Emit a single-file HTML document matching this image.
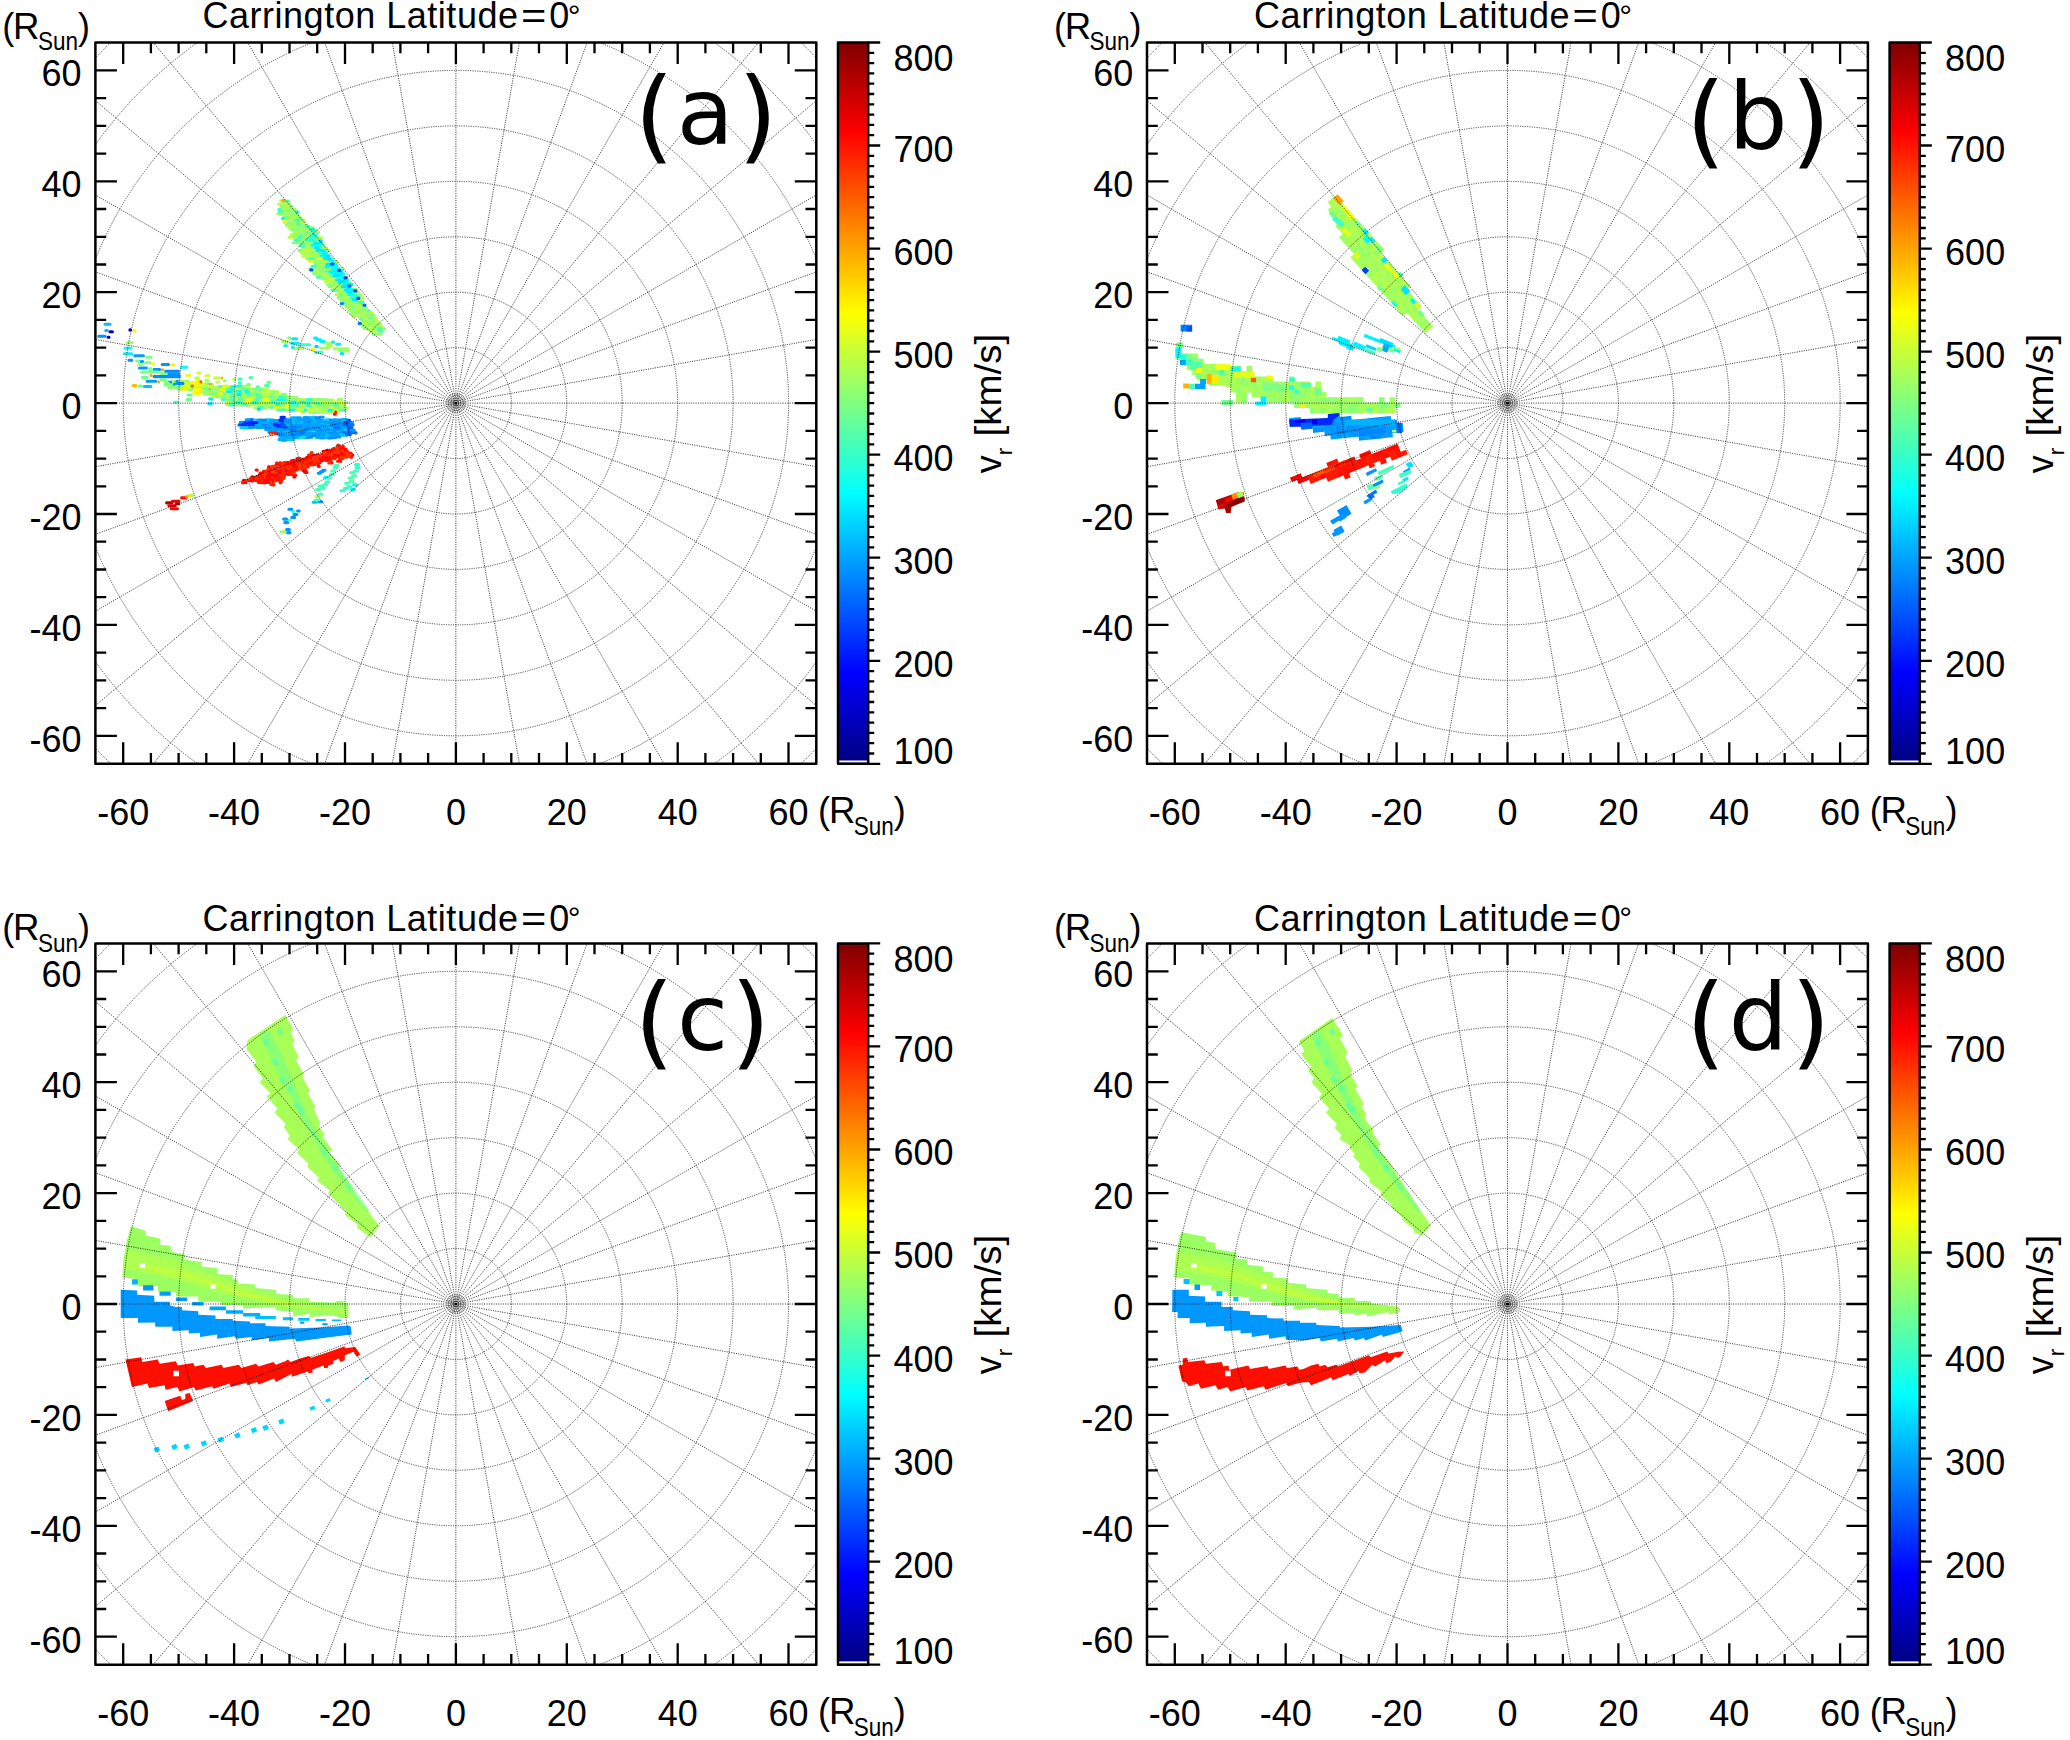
<!DOCTYPE html>
<html lang="en"><head><meta charset="utf-8"><title>Carrington Latitude=0 radial velocity maps</title>
<style>html,body{margin:0;padding:0;background:#fff}svg{display:block}text{font-family:"Liberation Sans", Arial, Helvetica, sans-serif;fill:#000}.t{font-size:36px}.s{font-size:22.6px}.p{font-family:"DejaVu Sans",Verdana,sans-serif;font-size:101.1px}</style></head><body>
<svg width="2070" height="1740" viewBox="0 0 2070 1740">
<rect width="2070" height="1740" fill="#fff"/>
<defs>
<linearGradient id="jet" x1="0" y1="0" x2="0" y2="1">
<stop offset="0%" stop-color="#800000"/>
<stop offset="3.125%" stop-color="#9f0000"/>
<stop offset="6.25%" stop-color="#bf0000"/>
<stop offset="9.375%" stop-color="#df0000"/>
<stop offset="12.5%" stop-color="#ff0000"/>
<stop offset="15.625%" stop-color="#ff2000"/>
<stop offset="18.75%" stop-color="#ff4000"/>
<stop offset="21.875%" stop-color="#ff6000"/>
<stop offset="25%" stop-color="#ff8000"/>
<stop offset="28.125%" stop-color="#ff9f00"/>
<stop offset="31.25%" stop-color="#ffbf00"/>
<stop offset="34.375%" stop-color="#ffdf00"/>
<stop offset="37.5%" stop-color="#ffff00"/>
<stop offset="40.625%" stop-color="#dfff20"/>
<stop offset="43.75%" stop-color="#bfff40"/>
<stop offset="46.875%" stop-color="#9fff60"/>
<stop offset="50%" stop-color="#80ff80"/>
<stop offset="53.125%" stop-color="#60ff9f"/>
<stop offset="56.25%" stop-color="#40ffbf"/>
<stop offset="59.375%" stop-color="#20ffdf"/>
<stop offset="62.5%" stop-color="#00ffff"/>
<stop offset="65.625%" stop-color="#00dfff"/>
<stop offset="68.75%" stop-color="#00bfff"/>
<stop offset="71.875%" stop-color="#009fff"/>
<stop offset="75%" stop-color="#0080ff"/>
<stop offset="78.125%" stop-color="#0060ff"/>
<stop offset="81.25%" stop-color="#0040ff"/>
<stop offset="84.375%" stop-color="#0020ff"/>
<stop offset="87.5%" stop-color="#0000ff"/>
<stop offset="90.625%" stop-color="#0000df"/>
<stop offset="93.75%" stop-color="#0000bf"/>
<stop offset="96.875%" stop-color="#00009f"/>
<stop offset="100%" stop-color="#000080"/>
</linearGradient>
<clipPath id="cp"><rect x="95.4" y="42.5" width="720.9" height="721.3"/></clipPath>
<g id="grid" clip-path="url(#cp)" fill="none" stroke="#000" stroke-width="1" stroke-dasharray="1.05 1.3" opacity="0.78">
<circle cx="455.9" cy="403.1" r="55.5"/>
<circle cx="455.9" cy="403.1" r="110.9"/>
<circle cx="455.9" cy="403.1" r="166.3"/>
<circle cx="455.9" cy="403.1" r="221.8"/>
<circle cx="455.9" cy="403.1" r="277.2"/>
<circle cx="455.9" cy="403.1" r="332.7"/>
<circle cx="455.9" cy="403.1" r="388.1"/>
<circle cx="455.9" cy="403.1" r="443.6"/>
<circle cx="455.9" cy="403.1" r="499.1"/>
<circle cx="455.9" cy="403.1" r="2.5"/>
<circle cx="455.9" cy="403.1" r="4.4"/>
<circle cx="455.9" cy="403.1" r="6.7"/>
<circle cx="455.9" cy="403.1" r="8.9"/>
<path d="M455.9 403.1L982.6 403.1M455.9 403.1L974.6 311.6M455.9 403.1L950.9 222.9M455.9 403.1L912.1 139.7M455.9 403.1L859.4 64.5M455.9 403.1L794.5 -0.4M455.9 403.1L719.2 -53.1M455.9 403.1L636 -91.9M455.9 403.1L547.3 -115.7M455.9 403.1L455.9 -123.7M455.9 403.1L364.4 -115.7M455.9 403.1L275.7 -91.9M455.9 403.1L192.5 -53.1M455.9 403.1L117.2 -0.4M455.9 403.1L52.3 64.5M455.9 403.1L-0.4 139.7M455.9 403.1L-39.2 222.9M455.9 403.1L-62.9 311.6M455.9 403.1L-70.9 403.1M455.9 403.1L-62.9 494.6M455.9 403.1L-39.2 583.3M455.9 403.1L-0.4 666.5M455.9 403.1L52.3 741.7M455.9 403.1L117.2 806.6M455.9 403.1L192.5 859.3M455.9 403.1L275.7 898.1M455.9 403.1L364.4 921.9M455.9 403.1L455.8 929.9M455.9 403.1L547.3 921.9M455.9 403.1L636 898.1M455.9 403.1L719.2 859.3M455.9 403.1L794.5 806.6M455.9 403.1L859.4 741.7M455.9 403.1L912.1 666.5M455.9 403.1L950.9 583.3M455.9 403.1L974.6 494.6"/>
</g>
<g id="axes">
<circle cx="455.9" cy="403.1" r="1.6" fill="#000"/>
<rect x="838" y="42.5" width="30.2" height="721.3" fill="url(#jet)"/>
<rect x="838" y="760.5" width="30.2" height="2.2" fill="#fff"/>
<path d="M123.2 42.5v21.5M123.2 763.8v-21.5M95.4 735.8h21.5M816.3 735.8h-21.5M150.9 42.5v10.8M150.9 763.8v-10.8M95.4 708.1h10.8M816.3 708.1h-10.8M178.6 42.5v10.8M178.6 763.8v-10.8M95.4 680.4h10.8M816.3 680.4h-10.8M206.3 42.5v10.8M206.3 763.8v-10.8M95.4 652.6h10.8M816.3 652.6h-10.8M234.1 42.5v21.5M234.1 763.8v-21.5M95.4 624.9h21.5M816.3 624.9h-21.5M261.8 42.5v10.8M261.8 763.8v-10.8M95.4 597.2h10.8M816.3 597.2h-10.8M289.5 42.5v10.8M289.5 763.8v-10.8M95.4 569.5h10.8M816.3 569.5h-10.8M317.2 42.5v10.8M317.2 763.8v-10.8M95.4 541.7h10.8M816.3 541.7h-10.8M345 42.5v21.5M345 763.8v-21.5M95.4 514h21.5M816.3 514h-21.5M372.7 42.5v10.8M372.7 763.8v-10.8M95.4 486.3h10.8M816.3 486.3h-10.8M400.4 42.5v10.8M400.4 763.8v-10.8M95.4 458.6h10.8M816.3 458.6h-10.8M428.1 42.5v10.8M428.1 763.8v-10.8M95.4 430.8h10.8M816.3 430.8h-10.8M455.9 42.5v21.5M455.9 763.8v-21.5M95.4 403.1h21.5M816.3 403.1h-21.5M483.6 42.5v10.8M483.6 763.8v-10.8M95.4 375.4h10.8M816.3 375.4h-10.8M511.3 42.5v10.8M511.3 763.8v-10.8M95.4 347.7h10.8M816.3 347.7h-10.8M539 42.5v10.8M539 763.8v-10.8M95.4 319.9h10.8M816.3 319.9h-10.8M566.8 42.5v21.5M566.8 763.8v-21.5M95.4 292.2h21.5M816.3 292.2h-21.5M594.5 42.5v10.8M594.5 763.8v-10.8M95.4 264.5h10.8M816.3 264.5h-10.8M622.2 42.5v10.8M622.2 763.8v-10.8M95.4 236.8h10.8M816.3 236.8h-10.8M649.9 42.5v10.8M649.9 763.8v-10.8M95.4 209h10.8M816.3 209h-10.8M677.7 42.5v21.5M677.7 763.8v-21.5M95.4 181.3h21.5M816.3 181.3h-21.5M705.4 42.5v10.8M705.4 763.8v-10.8M95.4 153.6h10.8M816.3 153.6h-10.8M733.1 42.5v10.8M733.1 763.8v-10.8M95.4 125.9h10.8M816.3 125.9h-10.8M760.8 42.5v10.8M760.8 763.8v-10.8M95.4 98.1h10.8M816.3 98.1h-10.8M788.5 42.5v21.5M788.5 763.8v-21.5M95.4 70.4h21.5M816.3 70.4h-21.5M868.2 763.8h12M868.2 753.5h6M868.2 743.2h6M868.2 732.9h6M868.2 722.6h6M868.2 712.3h6M868.2 702h6M868.2 691.7h6M868.2 681.4h6M868.2 671.1h6M868.2 660.8h12M868.2 650.5h6M868.2 640.1h6M868.2 629.8h6M868.2 619.5h6M868.2 609.2h6M868.2 598.9h6M868.2 588.6h6M868.2 578.3h6M868.2 568h6M868.2 557.7h12M868.2 547.4h6M868.2 537.1h6M868.2 526.8h6M868.2 516.5h6M868.2 506.2h6M868.2 495.9h6M868.2 485.6h6M868.2 475.3h6M868.2 465h6M868.2 454.7h12M868.2 444.4h6M868.2 434.1h6M868.2 423.8h6M868.2 413.5h6M868.2 403.1h6M868.2 392.8h6M868.2 382.5h6M868.2 372.2h6M868.2 361.9h6M868.2 351.6h12M868.2 341.3h6M868.2 331h6M868.2 320.7h6M868.2 310.4h6M868.2 300.1h6M868.2 289.8h6M868.2 279.5h6M868.2 269.2h6M868.2 258.9h6M868.2 248.6h12M868.2 238.3h6M868.2 228h6M868.2 217.7h6M868.2 207.4h6M868.2 197.1h6M868.2 186.8h6M868.2 176.5h6M868.2 166.2h6M868.2 155.8h6M868.2 145.5h12M868.2 135.2h6M868.2 124.9h6M868.2 114.6h6M868.2 104.3h6M868.2 94h6M868.2 83.7h6M868.2 73.4h6M868.2 63.1h6M868.2 52.8h6M868.2 42.5h12" fill="none" stroke="#000" stroke-width="2.3"/>
<path d="M95.4 42.5H816.3V763.8H95.4ZM838 42.5H868.2V763.8H838Z" fill="none" stroke="#000" stroke-width="2.5" stroke-linejoin="round"/>
<text class="t" x="123.2" y="825.4" text-anchor="middle">-60</text>
<text class="t" x="81.6" y="751.8" text-anchor="end">-60</text>
<text class="t" x="234.1" y="825.4" text-anchor="middle">-40</text>
<text class="t" x="81.6" y="640.9" text-anchor="end">-40</text>
<text class="t" x="345" y="825.4" text-anchor="middle">-20</text>
<text class="t" x="81.6" y="530" text-anchor="end">-20</text>
<text class="t" x="455.9" y="825.4" text-anchor="middle">0</text>
<text class="t" x="81.6" y="419.1" text-anchor="end">0</text>
<text class="t" x="566.8" y="825.4" text-anchor="middle">20</text>
<text class="t" x="81.6" y="308.2" text-anchor="end">20</text>
<text class="t" x="677.7" y="825.4" text-anchor="middle">40</text>
<text class="t" x="81.6" y="197.3" text-anchor="end">40</text>
<text class="t" x="788.5" y="825.4" text-anchor="middle">60</text>
<text class="t" x="81.6" y="86.4" text-anchor="end">60</text>
<text class="t" x="893.5" y="763.5">100</text>
<text class="t" x="893.5" y="676.8">200</text>
<text class="t" x="893.5" y="573.7">300</text>
<text class="t" x="893.5" y="470.7">400</text>
<text class="t" x="893.5" y="367.6">500</text>
<text class="t" x="893.5" y="264.6">600</text>
<text class="t" x="893.5" y="161.5">700</text>
<text class="t" x="893.5" y="71">800</text>
<text class="t" x="818.1" y="823.4">(</text><text class="t" x="828.9" y="823.4" style="font-size:36.6px">R</text><text class="t" x="853.7" y="834.7" style="font-size:25px" textLength="40" lengthAdjust="spacingAndGlyphs">Sun</text><text class="t" x="893.8" y="823.4">)</text>
<text class="t" transform="translate(1001.3 473.3) rotate(-90)">v<tspan class="s" dx="0" dy="11">r</tspan></text>
<text class="t" transform="translate(1001.3 436.5) rotate(-90)" textLength="102.6" lengthAdjust="spacingAndGlyphs">[km/s]</text>
</g>
</defs>
<g transform="translate(0 0)">
<g clip-path="url(#cp)">
<path d="M280.5 200.9h3.4M278.6 204.2h3.4M282.8 203.6h3.4M288.6 227.7h3.4M289 237.3h3.4M304.5 240h3.4M303.4 245.1h3.4M302.3 248.4h3.4M308.3 250.9h3.4M312.8 251.1h3.4M301.4 253.1h3.4M303.2 256.3h3.4M325.8 261.3h3.4M333.9 261.6h3.4M328 279.3h3.4M332.5 279.8h3.4M325.5 281.8h3.4M335.7 290.1h3.4M335.9 294.5h3.4M359.7 297.7h3.4M357.8 300.5h3.4M361.2 305.1h3.4M369.1 312.7h3.4M358.2 316h3.4M372.9 318.3h3.4M374.2 321h3.4M378.8 326.5h3.4M367.7 329.1h3.4M374.5 330.9h3.4M195.8 378h2.4M316 496.5h3" stroke="#baff45" stroke-width="3.1" stroke-linecap="round" fill="none"/>
<path d="M285 201.2h3.4M305.2 232.4h3.4M299.2 235.5h3.4M301.3 243.1h3.4M317.3 277.1h3.4M329.2 276.3h3.4M332.1 290.1h3.4M356 302.8h3.4M351.4 307.8h3.4M365.6 310.8h3.4M360.4 318.7h3.4M367.8 318.1h3.4M378.6 331.1h3.4M174.6 402.3h2.8M250 377.5h1.6M265.5 385.6h3.2M288.3 520.3h1.9M350.2 481.4h3M352.6 475.7h3" stroke="#54ffab" stroke-width="3.1" stroke-linecap="round" fill="none"/>
<path d="M285.9 203.4h3.4M291.6 209.3h3.4M284.4 211.6h3.4M293.8 211.5h3.4M286.6 219.3h3.4M290.7 219.1h3.4M299.9 219.9h3.4M286.2 225.1h3.4M303.9 225.2h3.4M301.4 227.5h3.4M299.7 229.7h3.4M299.2 240.4h3.4M310.6 243.3h3.4M320.6 245.3h3.4M306.5 258.4h3.4M321 261.4h3.4M312.9 272h3.4M318.1 274.5h3.4M322.6 279h3.4M346.3 281.7h3.4M336.4 284.4h3.4M363.3 307.7h3.4M358.4 310.5h3.4M363.8 313.5h3.4M361.1 315.8h3.4M377.2 323.7h3.4M370.2 325.9h3.4M375.1 326.3h3.4M185 381.5h3.4M177.9 383.6h3.4M209.1 384.4h3.4M208.8 389.1h3.4M216.9 389.1h3.4M211 392.1h3.4M270.7 391.4h3.4M274.6 391.9h3.4M204.3 394.3h3.4M220.8 394.6h3.4M234.3 394.6h3.4M251.6 394.3h3.4M223.1 396.7h3.4M227.6 397.1h3.4M249.9 397.2h3.4M251.6 400h3.4M272.8 399.2h3.4M286.2 399.9h3.4M289.9 399.3h3.4M294.3 399.6h3.4M338.2 399.5h3.4M275.3 402.4h3.4M343.6 402.5h3.4M233.8 404.6h3.4M251.3 404.7h3.4M255.9 404.2h3.4M292.3 407.4h3.4M317.7 412.1h3.4M127.4 342.8h4.7M224.4 380.7h0.9M234.5 378.8h0.1M320.4 348.2h7.8M334.3 348.9h14M339.7 351h8.6M313.2 437.7h3.4M281.4 531.9h3.4" stroke="#9dff62" stroke-width="3.1" stroke-linecap="round" fill="none"/>
<path d="M281 206.2h3.4M288.5 206.6h3.4M289 211.3h3.4M290.6 214.5h3.4M283.8 217.2h3.4M296.7 217.3h3.4M299.4 224.4h3.4M296.9 227.8h3.4M291.4 229.6h3.4M312.4 230h3.4M297.5 232.8h3.4M309.5 232.8h3.4M315.1 232.4h3.4M303.5 235.2h3.4M293.1 242.8h3.4M297.8 242.9h3.4M298.8 250.5h3.4M310.2 253h3.4M311.8 256.3h3.4M313.2 261.5h3.4M319 264h3.4M320.6 266.7h3.4M319.4 268.6h3.4M313.9 273.9h3.4M327.1 274.1h3.4M321.7 276.8h3.4M327.5 284.8h3.4M340.6 284.9h3.4M329.4 286.8h3.4M338.1 297.6h3.4M344.5 300.2h3.4M360.5 307.8h3.4M362.5 310.4h3.4M356.1 312.8h3.4M370.7 315.3h3.4M361.7 321.1h3.4M370.5 321.3h3.4M362.5 326.3h3.4M381.1 328.9h3.4M372.8 334.1h3.4M191.5 383.4h3.4M205 383.8h3.4M187.8 389.4h3.4M191.7 388.7h3.4M212.5 388.8h3.4M259.9 389h3.4M214.6 392.1h3.4M223.3 391.7h3.4M240.8 391.4h3.4M258.1 391.7h3.4M229.7 394.7h3.4M268.4 394.6h3.4M273.3 394.3h3.4M244.6 397h3.4M226.1 399.7h3.4M320 399.7h3.4M232.6 401.7h3.4M263.1 402.1h3.4M326.1 402.5h3.4M264.7 404.8h3.4M328.9 404.6h3.4M341.2 404.7h3.4M318.2 406.9h3.4M322.1 407.4h3.4M313.2 412.4h3.4" stroke="#87ff78" stroke-width="3.1" stroke-linecap="round" fill="none"/>
<path d="M284.1 206.3h3.4M277.7 213.8h3.4M294.6 214.6h3.4M293.2 221.9h3.4M296.7 221.9h3.4M290.9 234.8h3.4M314.8 237.5h3.4M305.2 247.8h3.4M304.2 251.1h3.4M315.1 253.5h3.4M308.7 255.6h3.4M314.4 258.6h3.4M322.8 263.4h3.4M317.5 266.7h3.4M339.8 268.6h3.4M316.6 271.9h3.4M322.4 274.2h3.4M328.9 281.6h3.4M333.4 287.2h3.4M339.7 289.5h3.4M342.6 297.5h3.4M347.5 297.9h3.4M357.4 305.6h3.4M347.4 307.4h3.4M370.8 330.9h3.4M187.6 383.6h3.4M180.6 386h3.4M245.6 386h3.4M239 388.8h3.4M263.8 389.5h3.4M244.5 391.4h3.4M265.2 394.4h3.4M262.3 396.9h3.4M275.2 397.2h3.4M234.7 399.3h3.4M260.6 399.9h3.4M269.3 399.7h3.4M311.3 399.2h3.4M329.6 400h3.4M240.7 401.7h3.4M266.9 401.7h3.4M278.8 401.7h3.4M318.6 401.7h3.4M322.9 401.9h3.4M334.9 402.1h3.4M226.5 404.6h3.4M246.7 405.1h3.4M287.7 407.3h3.4M305.8 407.1h3.4M343.7 407.7h3.4M295.4 409.5h3.4M312.5 409.7h3.4M301.3 412.1h3.4M326.5 412.1h3.4" stroke="#b3ff4c" stroke-width="3.1" stroke-linecap="round" fill="none"/>
<path d="M278.7 209.5h3.4M279.5 212.1h3.4M295.6 219.9h3.4M295.6 224.3h3.4M305.9 226.9h3.4M308.5 229.7h3.4M297.6 238h3.4M294.9 239.8h3.4M300.2 246h3.4M318.6 247.9h3.4M319.2 253.6h3.4M309.7 259h3.4M312.1 266.4h3.4M325.7 271.2h3.4M350.7 292.1h3.4M343.1 303h3.4M359.8 302.5h3.4M377.1 328.7h3.4M239.2 383.3h1.6M301.1 344.7h8.6M315.7 352.4h6.3M292.9 511.6h0.7M341 490.7h3M344.4 488.4h3M347.9 486.7h3M356 467.5h3" stroke="#37ffc8" stroke-width="3.1" stroke-linecap="round" fill="none"/>
<path d="M282.2 208.9h3.4M286.4 213.8h3.4M293.5 217.4h3.4M284.5 222.4h3.4M301.2 221.6h3.4M291.7 224.8h3.4M304.3 230h3.4M293.8 232.4h3.4M293.1 237.3h3.4M318.5 238h3.4M316.9 240h3.4M306.3 242.7h3.4M307.5 245.8h3.4M323.4 248.4h3.4M305.8 253.8h3.4M327.9 269.4h3.4M325.5 276.5h3.4M342.4 276.7h3.4M355.7 292.1h3.4M347 302.9h3.4M352.5 305.7h3.4M355.9 307.5h3.4M353.3 310.4h3.4M360.1 313.1h3.4M353.2 315.8h3.4M363.8 318.7h3.4M365.5 320.9h3.4M360.3 323.6h3.4M364.3 323.3h3.4M372 323.2h3.4M366.9 325.8h3.4M197.2 386.9h3.4M215.6 387h3.4M178.7 389.1h3.4M232.2 392.1h3.4M249.6 392.2h3.4M261.7 391.5h3.4M241.3 397.1h3.4M254.1 396.6h3.4M243.3 399.4h3.4M298.3 399.2h3.4M249 402.5h3.4M296.9 401.9h3.4M331.7 402.5h3.4M260.4 404.7h3.4M273.2 404.5h3.4M324.5 405.2h3.4M254.5 407.7h3.4M262.5 407.7h3.4M310 407.7h3.4M314.5 407.1h3.4M319.6 410h3.4M323.2 412.1h3.4M331.6 412.3h3.4M138.6 364.5h4M205.9 380.3h2M233.8 379.5h0.9M282.5 341.6h4.7M294.1 348.5h8.6M326.6 343.5h4.7M327.3 346.1h4M190.9 495.4h1.6" stroke="#abff54" stroke-width="3.1" stroke-linecap="round" fill="none"/>
<path d="M286 209.3h3.4M282.1 213.9h3.4M289.3 216.7h3.4M289.4 222.6h3.4M292.5 226.9h3.4M310 227.8h3.4M295.7 230.2h3.4M301.1 232.6h3.4M294.7 234.7h3.4M308.8 235.2h3.4M302.5 238h3.4M305.4 238.1h3.4M310.3 248h3.4M326 250.5h3.4M316.8 255.7h3.4M316.1 260.6h3.4M314.9 263.5h3.4M309.7 268.9h3.4M315.2 269.3h3.4M323.9 269.3h3.4M320.5 271.9h3.4M333.8 282h3.4M332 284.7h3.4M338.1 287.5h3.4M353.1 289.3h3.4M338.8 292.4h3.4M343.3 292.5h3.4M340.6 294.7h3.4M345.1 294.4h3.4M357.4 295.1h3.4M341.1 300.2h3.4M348.8 299.6h3.4M351.9 302.9h3.4M345.3 305.6h3.4M349.5 305.8h3.4M348.8 310.2h3.4M351.4 313.4h3.4M366.5 315.9h3.4M368.8 323.9h3.4M364 328.5h3.4M372.7 328.3h3.4M377.7 334.2h3.4M189.9 386.5h3.4M227.2 386.6h3.4M240.1 386.2h3.4M251.2 389.3h3.4M201.6 391.9h3.4M206.1 391.6h3.4M218.6 391.9h3.4M253.1 392.1h3.4M208.2 393.9h3.4M282.3 394.3h3.4M214.6 396.7h3.4M218.6 396.5h3.4M235.9 396.5h3.4M266 397.1h3.4M288.5 397h3.4M293.2 397.4h3.4M303.6 399.8h3.4M316.3 399.4h3.4M324.5 399.8h3.4M284.4 402.3h3.4M288.2 402.5h3.4M309.7 401.8h3.4M238.8 404.9h3.4M303 404.3h3.4M319.9 404.6h3.4M267 406.8h3.4M301 406.9h3.4M327.2 407.1h3.4M334.9 407.3h3.4M340.4 407h3.4M286.3 410.1h3.4M324.1 410.1h3.4M337.4 409.8h3.4M309.4 412.3h3.4" stroke="#95ff6a" stroke-width="3.1" stroke-linecap="round" fill="none"/>
<path d="M312.7 235.5h3.4M318.4 243.3h3.4M311.8 245.1h3.4M330 260.9h3.4M332.1 273.7h3.4M339.6 279.6h3.4M348.7 294.6h3.4" stroke="#04fffb" stroke-width="3.1" stroke-linecap="round" fill="none"/>
<path d="M310.6 237.9h3.4M307.4 239.9h3.4M311.8 240.2h3.4M316.4 245.4h3.4M352.6 295.1h3.4M351.3 297.8h3.4M355.6 297.3h3.4M355.5 464.6h3" stroke="#28ffd7" stroke-width="3.1" stroke-linecap="round" fill="none"/>
<path d="M314.8 243.4h3.4M315.3 247.7h3.4M316.9 250.4h3.4M321 250.5h3.4M323.7 258.5h3.4M332.1 264.1h3.4M336.2 274.4h3.4M336.4 279.7h3.4M343.2 282h3.4M344.4 284.5h3.4M348.5 284.4h3.4M345.1 289.9h3.4M347.6 292h3.4M353.2 299.7h3.4M312.2 229.3h1.2M296.5 212.2h1.2M227.9 391.9h3.4M238 394.6h3.4M209.7 398.9h2.4M208.6 403.7h2.8M292.6 338.7h4M284.8 345.8h1.6M292.6 347.4h0.5M314.6 338.1h2M317.3 339.7h3.2M321.1 341.4h3.2M332.7 342h0.9M336.6 344.3h3.2M341.2 353.6h1.6" stroke="#00edff" stroke-width="3.1" stroke-linecap="round" fill="none"/>
<path d="M323.1 253.1h3.4M321 256h3.4M326 266.6h3.4M329.2 265.9h3.4M330.3 271.8h3.4M333.5 271.6h3.4M340.2 273.8h3.4M338.9 276.3h3.4M346.4 287.6h3.4M349.2 289.7h3.4M124.3 353.7h7.4" stroke="#00f4ff" stroke-width="3.1" stroke-linecap="round" fill="none"/>
<path d="M325.7 255.7h3.4M327.9 258.9h3.4M326.9 264.2h3.4M338.4 271.2h3.4M334.2 276.3h3.4M339 281.9h3.4M342.3 286.8h3.4" stroke="#00e5ff" stroke-width="3.1" stroke-linecap="round" fill="none"/>
<path d="M318.2 258.3h3.4M308.8 261.2h3.4M197.2 381.2h3.4M183.5 383.9h3.4M200.4 384h3.4M185.6 386.9h3.4M186.6 375.3h3.2" stroke="#e5ff1a" stroke-width="3.1" stroke-linecap="round" fill="none"/>
<path d="M333.7 265.8h3.4M332.3 269h3.4M335.8 268.7h3.4M344.5 279.8h3.4M282.4 218.6h1.2M232.5 386.7h3.4M230 388.9h3.4M236.5 391.3h3.4M277.7 399.7h3.4M236.5 402.2h3.4M291.9 402h3.4M300.6 402.2h3.4M276.9 404.9h3.4M307.7 405.2h3.4M290.6 410.1h3.4M303.3 410.2h3.4M328.9 410.3h3.4M125.1 348.3h5.9M226 394.2h4M324.7 477.4h3M351.4 489.6h3M353.7 484.9h3" stroke="#00fbff" stroke-width="3.1" stroke-linecap="round" fill="none"/>
<path d="M310.7 269.9h1.2M331.7 264h1.2M357.6 298.4h1.2M346.1 420.2h3.4M246.2 425.2h3.4M346.4 429.9h3.4" stroke="#004dff" stroke-width="3.1" stroke-linecap="round" fill="none"/>
<path d="M359 323.6h1.2M341.3 303.6h1.2" stroke="#0087ff" stroke-width="3.1" stroke-linecap="round" fill="none"/>
<path d="M338.5 270.4h1.2M354.7 290.9h1.2M280.7 422.1h3.4M279.3 424.7h3.4M275.9 427.5h3.4M281.1 427.2h3.4M283.8 427.6h3.4" stroke="#0045ff" stroke-width="3.1" stroke-linecap="round" fill="none"/>
<path d="M344.9 277.7h1.2" stroke="#003eff" stroke-width="3.1" stroke-linecap="round" fill="none"/>
<path d="M348.8 286h1.2M249.7 419.7h3.4M239 424.9h3.4M282.6 425.2h3.4" stroke="#005bff" stroke-width="3.1" stroke-linecap="round" fill="none"/>
<path d="M363.9 305.2h1.2M272 422.9h3.4M309.2 422.2h3.4M290.1 425.3h3.4M342.4 424.6h3.4M264.3 427.8h3.4M268.6 427.7h3.4M293.2 427.1h3.4M316.6 427.7h3.4M332.6 427.3h3.4" stroke="#006aff" stroke-width="3.1" stroke-linecap="round" fill="none"/>
<path d="M320 241.1h1.2M315.7 346.6h1.6M254.1 420.4h3.4M265.8 419.9h3.4M321.7 420.5h3.4M326.4 419.9h3.4M260.1 422.9h3.4M300.7 422.9h3.4M253.9 425.1h3.4M326 424.6h3.4M241 427.7h3.4M243.8 427.9h3.4M321.1 427.1h3.4M342.6 430.3h3.4M327.2 434.6h3.4M338.7 434.9h3.4M296.5 437.4h3.4M286.5 439.6h3.4M290 439.6h3.4" stroke="#00d0ff" stroke-width="3.1" stroke-linecap="round" fill="none"/>
<path d="M283.8 221h1.2M192.8 386.2h3.4M183.5 389.2h3.4M196 393.8h3.4M133.6 330.7h1.4M171.9 365h2M173.4 381.5h1M311.9 349.5h1.6M271.7 431.9h1" stroke="#fff400" stroke-width="3.1" stroke-linecap="round" fill="none"/>
<path d="M282.9 200.5h1M162.4 369.9h0.2M151 375.5h0.2M158.6 381.9h0M221.7 378h0M210.1 384.2h0.1M209.4 388.8h0.1" stroke="#ffa400" stroke-width="3.1" stroke-linecap="round" fill="none"/>
<path d="M171.4 381.7h3.4M169.8 383.9h3.4M171.5 386h3.4M168.8 387.4h9.4" stroke="#8eff71" stroke-width="3.1" stroke-linecap="round" fill="none"/>
<path d="M176.9 381.4h3.4M98.8 336.3h6.3M129 360.2h2.8M154.1 369.5h5.5M162.2 364.5h6.3M168.8 374h9.8M168.8 382.4h1.8M282.8 419.6h3.4M291.2 419.9h3.4M338.8 420h3.4M240.2 422.2h3.4M256.6 422.7h3.4M269 422.7h3.4M304.6 422.4h3.4M327.9 422.8h3.4M332.4 422.5h3.4M349 422.9h3.4M270.7 425.1h3.4M298.1 425.4h3.4M306.8 425.3h3.4M337.7 425.1h3.4M257.2 427.4h3.4M274.3 430.1h3.4M283.3 430h3.4M286.8 429.6h3.4M294.4 429.8h3.4M321.8 430.5h3.4M269 432.3h3.4M272 432.2h3.4M280.7 432.2h3.4M293 432.8h3.4M340.8 432h3.4M314 435.4h3.4M334.1 434.8h3.4M332.1 437.5h3.4M336.4 437h3.4M318.2 473.3h2.1M320.5 471.8h2.1M322.9 470.3h2.1M288.9 509.3h2.8M297.6 511h1.6M294.1 514.5h2.8M283.7 519.1h2.8M291.8 517.4h2.8M284.8 522.6h2.8M286.6 529.6h2.8M287.7 532.7h2.4M318.7 501.7h3" stroke="#0095ff" stroke-width="3.1" stroke-linecap="round" fill="none"/>
<path d="M179.9 381.1h3.4M202.1 386.6h3.4M207.1 386.8h3.4M210 386.5h3.4M235.1 388.8h3.4M246.8 389.4h3.4M267.1 391.3h3.4M226.4 394.5h3.4M242.9 394.3h3.4M260.3 394.1h3.4M277.3 394.1h3.4M227.5 401.8h3.4M257.6 401.9h3.4M268.6 404.6h3.4M285.6 404.3h3.4M298.8 404.4h3.4M311.3 404.2h3.4M338.2 405h3.4M279.8 406.9h3.4M296.7 407.7h3.4M331.9 407.4h3.4M299.2 409.9h3.4M316.8 410.1h3.4M334.1 410.4h3.4M334.9 412.1h3.4" stroke="#bdff42" stroke-width="3.1" stroke-linecap="round" fill="none"/>
<path d="M165.3 383.4h3.4M146.4 357.3h4.7M145.6 362.7h4.7M161.1 373.5h4.7M164.9 385h12.5M247.7 384.5h1.6M288.7 337.7h0.9" stroke="#80ff80" stroke-width="3.1" stroke-linecap="round" fill="none"/>
<path d="M174.3 384.2h3.4M134.8 355.7h8.6M141 361.5h1.6M139.4 368h7M147.1 381.3h8.6M303.9 417.6h3.4M308.1 417.9h3.4M319.9 417.3h3.4M246.1 419.9h3.4M258.1 420.1h3.4M286.3 419.9h3.4M299.1 419.7h3.4M303 420.1h3.4M306.1 419.6h3.4M311 419.9h3.4M289.1 423h3.4M316 423h3.4M320.5 422h3.4M266.5 424.7h3.4M294.1 424.8h3.4M271.9 427.4h3.4M307.9 427.8h3.4M339.9 427.5h3.4M344.3 427.4h3.4M270.8 429.7h3.4M278.3 429.6h3.4M306.5 429.7h3.4M330.1 429.8h3.4M350.8 430.1h3.4M316.6 432h3.4M332.9 432.5h3.4M335.8 432.9h3.4M282.1 435h3.4M285.9 435h3.4M302.2 434.6h3.4M319.1 434.6h3.4M321.8 435.3h3.4M292.4 437.6h3.4M304.5 437.4h3.4" stroke="#009dff" stroke-width="3.1" stroke-linecap="round" fill="none"/>
<path d="M196.2 383.7h3.4M199.6 388.9h3.4M197.3 392h3.4" stroke="#ffed00" stroke-width="3.1" stroke-linecap="round" fill="none"/>
<path d="M176.4 386h3.4M136.7 361h2M149.5 368.9h1.6M141.7 372h16.3M142.5 377.4h4.7M139 386.1h2.6M187.3 399.6h3.2M267.8 382.4h2.4" stroke="#71ff8e" stroke-width="3.1" stroke-linecap="round" fill="none"/>
<path d="M219.7 386.5h3.4M226.3 389.1h3.4M213.6 394.8h3.4M221.9 399.4h3.4M239.2 399.2h3.4M281.2 404.9h3.4M270.3 407.1h3.4" stroke="#5bffa4" stroke-width="3.1" stroke-linecap="round" fill="none"/>
<path d="M223.8 386.1h3.4M217.8 393.9h3.4M211.3 396.5h3.4M245.6 402h3.4M339.5 402.4h3.4M308.3 410.3h3.4" stroke="#deff21" stroke-width="3.1" stroke-linecap="round" fill="none"/>
<path d="M237.2 386.2h3.4M282.3 399.6h3.4M253.2 402.2h3.4" stroke="#1affe5" stroke-width="3.1" stroke-linecap="round" fill="none"/>
<path d="M195.2 389.5h3.4M193 392.2h3.4M152.9 363.7h0.6M190.4 382.6h9.4" stroke="#fffb00" stroke-width="3.1" stroke-linecap="round" fill="none"/>
<path d="M204.1 388.8h3.4M256.1 389.2h3.4M257.4 397h3.4M270.2 397.3h3.4M283.1 396.9h3.4M314.1 402.5h3.4" stroke="#6aff95" stroke-width="3.1" stroke-linecap="round" fill="none"/>
<path d="M220.7 389.4h3.4M248.1 399.1h3.4M264.2 399.2h3.4M275.2 407.5h3.4M283.5 406.9h3.4" stroke="#f4ff0b" stroke-width="3.1" stroke-linecap="round" fill="none"/>
<path d="M243.3 389.6h3.4M247.5 394.3h3.4M256.5 394.8h3.4M231.5 396.5h3.4M229.8 399.8h3.4M256.3 399.4h3.4M305.8 402.5h3.4M243.1 404.6h3.4M291.1 405.1h3.4M294.7 405.1h3.4M316.3 404.3h3.4M334.1 404.9h3.4M258.7 407.6h3.4M277.7 410h3.4M281.2 409.9h3.4M341.7 410.3h3.4M349.1 478h3" stroke="#4dffb2" stroke-width="3.1" stroke-linecap="round" fill="none"/>
<path d="M279.6 397.1h3.4M308 399.6h3.4M271.6 401.8h3.4M230.3 404.9h3.4" stroke="#2fffd0" stroke-width="3.1" stroke-linecap="round" fill="none"/>
<path d="M105 324.3h5.1M144.4 386.5h6.3M311.7 417.2h3.4M293.8 420h3.4M292.6 422h3.4M340.1 422.4h3.4M328.1 427.6h3.4M284.4 432.1h3.4M342.8 435.2h3.4M280.1 437.7h3.4M324.7 437.6h3.4M313.1 502.3h3" stroke="#00c1ff" stroke-width="3.1" stroke-linecap="round" fill="none"/>
<path d="M105.8 330.5h1.3M292 417.9h3.4M313.9 420.2h3.4M342.5 419.6h3.4M263.7 422.6h3.4M311.9 422.3h3.4M258.5 425.3h3.4M287.1 424.6h3.4M299.7 427.2h3.4M299 430.2h3.4M311.2 429.8h3.4M288.9 432.5h3.4M304 432.3h3.4M288.2 437.6h3.4M279 439.6h3.4" stroke="#00b2ff" stroke-width="3.1" stroke-linecap="round" fill="none"/>
<path d="M110 331.8h2.4M108.1 337.2h0.9" stroke="#0000ba" stroke-width="3.1" stroke-linecap="round" fill="none"/>
<path d="M129.9 329.9h0.7" stroke="#0000c8" stroke-width="3.1" stroke-linecap="round" fill="none"/>
<path d="M165.7 371.2h12.8M154.1 376.6h25.2M177.7 383.4h5.3M316 417.8h3.4M262.1 420.3h3.4M330.4 420.3h3.4M275.9 422.4h3.4M284.8 422.3h3.4M336.7 422.3h3.4M262.4 425.4h3.4M331.1 425.5h3.4M333.8 424.9h3.4M289.1 427.4h3.4M297 427.4h3.4M305 427.6h3.4M312.6 427.3h3.4M303.1 430h3.4M318.4 429.9h3.4M325.7 429.6h3.4M334.6 429.5h3.4M277.2 433h3.4M296.2 432.6h3.4M328.9 432.8h3.4M278.9 435.1h3.4M293.8 434.6h3.4M298.3 435.1h3.4M310.5 434.7h3.4M308.3 437.1h3.4M328.7 437.9h3.4" stroke="#008eff" stroke-width="3.1" stroke-linecap="round" fill="none"/>
<path d="M181.5 367.3h5.1M230.6 389.6h1.6M246.1 391.9h2.4" stroke="#0bfff4" stroke-width="3.1" stroke-linecap="round" fill="none"/>
<path d="M161.1 379.9h4.7" stroke="#78ff87" stroke-width="3.1" stroke-linecap="round" fill="none"/>
<path d="M133.2 385.6h2.6" stroke="#ffba00" stroke-width="3.1" stroke-linecap="round" fill="none"/>
<path d="M197.8 373h2M205.9 375.7h3.2M214.4 378h5.5M216.7 382.3h1.6" stroke="#c8ff37" stroke-width="3.1" stroke-linecap="round" fill="none"/>
<path d="M239.1 379.2h2M239.2 379.1h2M315.5 500h3M318.9 494.2h3M316.6 489.6h3M321.3 488.4h3M323.6 484.9h3M318.9 486.1h3M325.9 482h3M327.6 478h3M330.5 474.5h3M331.7 471h3M334 467.5h3M335.2 465.2h3M345.6 483.2h3M350.8 472.8h3M354.3 471h3" stroke="#45ffba" stroke-width="3.1" stroke-linecap="round" fill="none"/>
<path d="M192 386.1h0.5" stroke="#ff6a00" stroke-width="3.1" stroke-linecap="round" fill="none"/>
<path d="M200.9 381.9h0" stroke="#ff5b00" stroke-width="3.1" stroke-linecap="round" fill="none"/>
<path d="M188.1 395h3.2M257 386.8h1.6" stroke="#62ff9d" stroke-width="3.1" stroke-linecap="round" fill="none"/>
<path d="M258.2 409.2h1.3M300.9 437.2h3.4" stroke="#00deff" stroke-width="3.1" stroke-linecap="round" fill="none"/>
<path d="M291.8 343.3h6.3" stroke="#00f0ff" stroke-width="3.1" stroke-linecap="round" fill="none"/>
<path d="M270.1 433.2h1.6M274.8 433.2h2M334.3 414.2h1M335.7 412.1h0M356.1 432.9h0M335.2 449h0.9M338.6 451.2h0.9M345.1 451.1h0.9M330 452.5h0.9M341.1 454.4h0.9M344.4 455.2h0.9M325.1 457.1h0.9M329.5 457.2h0.9M332.5 457.1h0.9M334.4 456.4h0.9M337.2 456.7h0.9M342.7 456.4h0.9M302.2 459.3h0.9M304.9 459.1h0.9M324.2 459h0.9M291.1 460.9h0.9M304.3 461h0.9M306 461.3h0.9M326.6 460.5h0.9M276.5 463h0.9M284.4 462.5h0.9M308.1 462.4h0.9M316.4 462.5h0.9M275.6 465.2h0.9M284.3 466.7h0.9M273.6 469.2h0.9M275.5 468.5h0.9M290.7 469.1h0.9M277 471h0.9M289.6 470.8h0.9M292.7 471.1h0.9M260 473h0.9M269.5 472.4h0.9M260.9 474.9h0.9M266.9 474.5h0.9M283.8 474.6h0.9M287.4 474.5h0.9M295 475.2h0.9M251.8 476.7h0.9M278 476.8h0.9M271.7 479.2h0.9M254.7 480.4h0.9M267 480.9h0.9M269.9 480.3h0.9M261.2 482.7h0.9M264.1 482.9h0.9M266.8 482.4h0.9M273 485h0.9M256.2 470.1h1.1M181.6 497.9h4" stroke="#ff1200" stroke-width="3.1" stroke-linecap="round" fill="none"/>
<path d="M270.5 434.5h0.1M186.3 496.8h0.7" stroke="#ff8700" stroke-width="3.1" stroke-linecap="round" fill="none"/>
<path d="M281 417.2h3.4M279.2 420.4h3.4M274.7 424.9h3.4" stroke="#0028ff" stroke-width="3.1" stroke-linecap="round" fill="none"/>
<path d="M297.1 417.9h3.4M270 420.1h3.4M273.9 420.5h3.4M318.4 420.5h3.4M333.7 419.7h3.4M296 422.1h3.4M324.3 422.2h3.4M303.1 424.6h3.4M310.2 424.8h3.4M314 424.9h3.4M318.8 425.1h3.4M322.1 425.3h3.4M249.1 427.7h3.4M253.1 427.1h3.4M260.3 427.2h3.4M324 427.8h3.4M265.8 429.7h3.4M314.3 429.5h3.4M338.7 430.1h3.4M309 432.9h3.4M312.8 433h3.4M320.3 433h3.4M323.8 432.1h3.4M306.5 434.5h3.4M330.8 435.2h3.4M284.4 437.2h3.4M316.5 437.3h3.4M320.1 437.9h3.4M282.1 440.3h3.4" stroke="#00a4ff" stroke-width="3.1" stroke-linecap="round" fill="none"/>
<path d="M244.8 422.8h3.4M248.9 422.4h3.4M242 424.6h3.4M249.9 424.7h3.4" stroke="#002fff" stroke-width="3.1" stroke-linecap="round" fill="none"/>
<path d="M253 422.7h3.4" stroke="#0012ff" stroke-width="3.1" stroke-linecap="round" fill="none"/>
<path d="M344.3 422.6h3.4M345.9 424.9h3.4M348.6 427.6h3.4" stroke="#0062ff" stroke-width="3.1" stroke-linecap="round" fill="none"/>
<path d="M349.7 424.9h3.4M344.2 432.5h3.4M348.9 432.6h3.4M352.1 432.8h3.4M346.9 434.8h3.4" stroke="#0071ff" stroke-width="3.1" stroke-linecap="round" fill="none"/>
<path d="M335.8 427.5h3.4M291 430.4h3.4M300.7 432.5h3.4M291.2 434.5h3.4" stroke="#0078ff" stroke-width="3.1" stroke-linecap="round" fill="none"/>
<path d="M337.7 445.2h0.9M346.4 450.9h0.9M350.3 453.2h0.9M308.6 455h0.9M317.7 454.9h0.9M351.8 455h0.9M306.8 457.2h0.9M309.1 457.2h0.9M350.7 457.3h0.9M307.7 458.9h0.9M310.1 459.2h0.9M301.1 461.2h0.9M311.6 461.1h0.9M297.8 462.5h0.9M302.6 463.3h0.9M331.1 462.9h0.9M278 464.4h0.9M280.3 465.1h0.9M286.1 468.5h0.9M263.5 471.2h0.9M268.7 470.4h0.9M274.3 470.7h0.9M286.5 470.8h0.9M295.3 470.3h0.9M261.8 473.2h0.9M267.2 472.9h0.9M259.2 475.1h0.9M277.2 474.5h0.9M292.6 474.4h0.9M255.3 477.2h0.9M265.8 476.4h0.9M267.6 476.5h0.9M270.6 476.3h0.9M275.8 477.3h0.9M253 479h0.9M258.6 478.9h0.9M266 478.7h0.9M269.2 478.4h0.9M274.2 478.9h0.9M280 478.4h0.9M243.4 480.3h0.9M249.4 480.5h0.9M257.2 480.9h0.9M259.8 481h0.9M273.2 481.2h0.9M268.4 482.4h0.9" stroke="#ff0b00" stroke-width="3.1" stroke-linecap="round" fill="none"/>
<path d="M337.1 446.5h0.9M337.6 448.9h0.9M329 454.3h0.9M347.7 454.5h0.9M345.8 457.3h0.9M348.5 456.5h0.9M342.2 458.4h0.9M320 460.8h0.9M299.5 462.8h0.9M305.4 462.7h0.9M313.3 463.1h0.9M295.5 464.9h0.9M298.7 465.2h0.9M301 464.3h0.9M312.4 465h0.9M272.2 466.4h0.9M280 467.2h0.9M296.8 466.6h0.9M268.2 468.9h0.9M304.6 469.1h0.9M272.3 470.7h0.9M265.6 472.9h0.9M272.6 472.8h0.9M275 472.9h0.9M293.5 473.1h0.9M263.5 474.8h0.9M280.1 474.5h0.9M281.7 475.2h0.9M250.1 478.8h0.9M282.7 478.6h0.9M261.9 480.7h0.9M275 480.7h0.9" stroke="#ff3700" stroke-width="3.1" stroke-linecap="round" fill="none"/>
<path d="M339.7 447h0.9M342.5 446.4h0.9M333.3 448.9h0.9M327.1 453.1h0.9M343.6 453.2h0.9M348 452.7h0.9M312.8 455h0.9M326.5 455.1h0.9M326.8 457.3h0.9M315 459h0.9M321.3 458.6h0.9M330.6 458.6h0.9M334.4 458.4h0.9M339.6 458.8h0.9M325.5 460.4h0.9M330.2 460.9h0.9M337.5 461.2h0.9M279.8 462.8h0.9M295.3 462.3h0.9M319.1 462.7h0.9M285.3 465.1h0.9M304.5 465.3h0.9M307 464.3h0.9M309.2 465h0.9M314.2 464.5h0.9M307.2 467h0.9M318.4 466.5h0.9M270.2 469.2h0.9M280.6 468.7h0.9M283.5 468.7h0.9M293.2 468.7h0.9M281.2 470.7h0.9M280.3 473.3h0.9M289.1 472.3h0.9M290.5 473.1h0.9M290.3 474.4h0.9M256.7 476.6h0.9M259.3 477.1h0.9M262.2 476.8h0.9M272.9 476.3h0.9M281.1 477.2h0.9M261.4 479.1h0.9M263.2 479.3h0.9M276.4 479.2h0.9M280.9 481h0.9M242.4 482.8h0.9M258.5 482.4h0.9M272.2 483.3h0.9M280 482.6h0.9" stroke="#ff1a00" stroke-width="3.1" stroke-linecap="round" fill="none"/>
<path d="M340.5 448.7h0.9M342.7 448.6h0.9M344.9 449h0.9M323.2 451.2h0.9M326.6 450.4h0.9M328.3 450.9h0.9M330.7 450.5h0.9M334.4 450.6h0.9M340.9 452.4h0.9M315.5 455.2h0.9M321.7 454.3h0.9M334.2 454.7h0.9M336.7 454.8h0.9M339.9 455.2h0.9M311.1 456.4h0.9M322.9 456.6h0.9M296.9 458.5h0.9M318.8 458.7h0.9M326.3 458.4h0.9M328.4 458.6h0.9M293.3 460.4h0.9M296.9 460.5h0.9M298.1 460.6h0.9M321.6 460.8h0.9M340 461.2h0.9M287.5 462.4h0.9M290.1 463h0.9M292.8 462.6h0.9M310.3 462.6h0.9M284 464.4h0.9M287.9 464.8h0.9M290.5 464.6h0.9M294.1 464.5h0.9M317.8 465.2h0.9M268.6 466.8h0.9M292.9 466.6h0.9M295.6 466.8h0.9M296.7 468.9h0.9M278.8 470.8h0.9M285.3 470.8h0.9M302.8 470.4h0.9M305.2 471h0.9M278.8 472.8h0.9M285.1 473.2h0.9M304.6 472.3h0.9M306 472.4h0.9M268.9 474.6h0.9M270.8 474.7h0.9M274.5 474.7h0.9M293.8 477h0.9M251.5 480.9h0.9M264.7 481.2h0.9M278.1 480.3h0.9M245.1 482.6h0.9M171.2 508.7h6.3" stroke="#ff0400" stroke-width="3.1" stroke-linecap="round" fill="none"/>
<path d="M336 450.7h0.9M341.5 450.6h0.9M311.2 452.5h0.9M324.1 452.4h0.9M332.7 452.6h0.9M334.7 452.7h0.9M337.3 452.6h0.9M345.7 452.9h0.9M309.7 455.1h0.9M323.6 454.8h0.9M330.7 454.7h0.9M349.4 454.6h0.9M313.8 457.2h0.9M316.8 456.4h0.9M319.6 456.5h0.9M340.8 457.3h0.9M299.3 458.4h0.9M313.5 459.1h0.9M309.8 460.5h0.9M314.7 461.1h0.9M316.8 460.6h0.9M282.7 463.1h0.9M328.8 462.9h0.9M274.2 466.8h0.9M276.3 466.6h0.9M282.1 466.9h0.9M286.9 466.5h0.9M289.9 466.4h0.9M300.8 466.8h0.9M303.5 466.4h0.9M305.1 466.5h0.9M278.3 468.6h0.9M288.3 468.4h0.9M298.9 469.2h0.9M300.8 468.4h0.9M266.3 470.8h0.9M283.1 472.8h0.9M283.8 477.2h0.9M256.3 478.9h0.9M246.7 480.6h0.9M270.7 484.4h0.9" stroke="#ff2f00" stroke-width="3.1" stroke-linecap="round" fill="none"/>
<path d="M166.6 502.9h5.1" stroke="#ba0000" stroke-width="3.1" stroke-linecap="round" fill="none"/>
<path d="M172.4 501.2h6.5" stroke="#ed0000" stroke-width="3.1" stroke-linecap="round" fill="none"/>
<path d="M168.9 505.8h6.3" stroke="#f40000" stroke-width="3.1" stroke-linecap="round" fill="none"/>
<path d="M176.4 503.7h2.4" stroke="#a40000" stroke-width="3.1" stroke-linecap="round" fill="none"/>
<path d="M188.6 495.9h0.7" stroke="#ffde00" stroke-width="3.1" stroke-linecap="round" fill="none"/>
</g>
<use href="#grid"/>
<use href="#axes"/>
<text class="t" x="202.5" y="28.4" textLength="315.5" lengthAdjust="spacing">Carrington Latitude</text>
<text class="t" x="521" y="28.4" textLength="25.3" lengthAdjust="spacingAndGlyphs">=</text>
<text class="t" x="549.2" y="28.4">0<tspan dx="-1.6" dy="-1.6" style="font-size:32px">°</tspan></text>
<text class="t" x="2.3" y="38.5">(</text><text class="t" x="13.1" y="38.5" style="font-size:36.6px">R</text><text class="t" x="37.9" y="49.8" style="font-size:25px" textLength="40" lengthAdjust="spacingAndGlyphs">Sun</text><text class="t" x="78" y="38.5">)</text>
<text class="p" x="634.4" y="149.5">(</text><text class="p" x="676.7" y="143.6" style="font-size:93px">a</text><text class="p" x="738.1" y="149.5">)</text>
</g>
<g transform="translate(1051.6 0)">
<g clip-path="url(#cp)">
<path d="M283.8 195.4L287.8 199.8L283.8 203.5L279.8 199ZM291.3 203.7L295.3 208.2L291.3 211.8L287.3 207.3ZM295 207.9L299 212.3L295 215.9L291 211.5ZM317.5 232.8L321.5 237.3L317.5 240.9L313.5 236.4ZM280.1 198.7L284.1 203.2L280.1 206.8L276.1 202.3ZM306.3 227.9L310.3 232.3L306.3 235.9L302.3 231.5ZM310 232L314.1 236.5L310.1 240.1L306 235.6ZM280.1 206.2L284.1 210.7L280.1 214.3L276.1 209.8ZM287.6 214.6L291.6 219L287.6 222.6L283.6 218.2ZM310.1 239.5L314.1 244L310.1 247.6L306.1 243.1ZM321.3 252L325.3 256.5L321.3 260.1L317.3 255.6ZM328.8 260.3L332.8 264.8L328.8 268.4L324.8 263.9ZM291.4 226.2L295.4 230.7L291.4 234.3L287.4 229.8ZM302.6 238.7L306.6 243.2L302.6 246.8L298.6 242.3ZM328.8 267.8L332.9 272.3L328.8 275.9L324.8 271.5ZM332.6 272L336.6 276.5L332.6 280.1L328.6 275.6ZM336.3 276.2L340.4 280.6L336.3 284.2L332.3 279.8ZM340.1 280.3L344.1 284.8L340.1 288.4L336.1 283.9ZM377.6 321.9L381.6 326.4L377.6 330L373.5 325.6ZM313.9 258.7L317.9 263.2L313.9 266.8L309.9 262.3ZM317.6 262.9L321.7 267.3L317.6 270.9L313.6 266.5ZM332.6 279.5L336.6 284L332.6 287.6L328.6 283.1ZM347.6 296.2L351.6 300.6L347.6 304.2L343.6 299.8ZM351.4 300.3L355.4 304.8L351.4 308.4L347.3 303.9ZM358.9 308.6L362.9 313.1L358.9 316.7L354.8 312.3ZM362.6 312.8L366.6 317.3L362.6 320.9L358.6 316.4ZM321.4 274.5L325.4 279L321.4 282.6L317.4 278.1ZM347.6 303.7L351.7 308.1L347.6 311.7L343.6 307.3Z" fill="#aeff51"/>
<path d="M287.5 199.5L291.6 204L287.5 207.6L283.5 203.2ZM298.8 212L302.8 216.5L298.8 220.1L294.8 215.6ZM302.5 216.2L306.5 220.6L302.5 224.3L298.5 219.8ZM313.8 228.7L317.8 233.1L313.8 236.7L309.8 232.3ZM321.3 237L325.3 241.5L321.3 245.1L317.2 240.6ZM295.1 215.4L299.1 219.8L295.1 223.4L291 219ZM302.6 223.7L306.6 228.2L302.6 231.8L298.5 227.3ZM313.8 236.2L317.8 240.6L313.8 244.3L309.8 239.8ZM321.3 244.5L325.3 249L321.3 252.6L317.3 248.1ZM328.8 252.8L332.8 257.3L328.8 260.9L324.8 256.4ZM351.3 277.8L355.3 282.3L351.3 285.9L347.3 281.4ZM291.3 218.7L295.4 223.2L291.3 226.8L287.3 222.3ZM298.8 227L302.9 231.5L298.8 235.1L294.8 230.7ZM332.6 264.5L336.6 269L332.6 272.6L328.6 268.1ZM351.3 285.3L355.3 289.8L351.3 293.4L347.3 288.9ZM366.3 302L370.3 306.4L366.3 310L362.3 305.6ZM347.6 288.6L351.6 293.1L347.6 296.7L343.6 292.3ZM325.1 271.2L329.1 275.6L325.1 279.3L321.1 274.8ZM336.4 283.7L340.4 288.1L336.4 291.7L332.4 287.3ZM302.7 253.7L306.7 258.2L302.7 261.8L298.7 257.3ZM325.2 278.7L329.2 283.2L325.2 286.8L321.2 282.3ZM328.9 282.9L332.9 287.3L328.9 290.9L324.9 286.5Z" fill="#b4ff4b"/>
<path d="M306.3 220.3L310.3 224.8L306.3 228.4L302.3 224ZM310 224.5L314 229L310 232.6L306 228.1ZM325 241.2L329 245.6L325 249.2L321 244.8ZM287.6 207L291.6 211.5L287.6 215.1L283.6 210.7ZM317.5 240.3L321.6 244.8L317.5 248.4L313.5 244ZM343.8 269.5L347.8 273.9L343.8 277.5L339.8 273.1ZM347.5 273.6L351.5 278.1L347.5 281.7L343.5 277.2ZM295.1 222.9L299.1 227.3L295.1 231L291.1 226.5ZM302.6 231.2L306.6 235.7L302.6 239.3L298.6 234.8ZM347.6 281.1L351.6 285.6L347.6 289.2L343.5 284.8ZM317.6 255.4L321.6 259.8L317.6 263.4L313.6 259ZM321.4 259.5L325.4 264L321.4 267.6L317.3 263.1ZM351.3 292.8L355.3 297.3L351.3 300.9L347.3 296.4ZM295.2 237.9L299.2 242.4L295.2 246L291.1 241.5ZM298.9 242.1L302.9 246.5L298.9 250.1L294.9 245.7ZM321.4 267L325.4 271.5L321.4 275.1L317.4 270.6ZM328.9 275.3L332.9 279.8L328.9 283.4L324.9 279ZM340.1 287.8L344.1 292.3L340.1 295.9L336.1 291.4ZM343.9 292L347.9 296.5L343.9 300.1L339.9 295.6ZM366.4 317L370.4 321.4L366.4 325L362.3 320.6ZM313.9 266.2L317.9 270.7L313.9 274.3L309.9 269.8ZM317.7 270.4L321.7 274.8L317.7 278.4L313.7 274ZM340.2 295.3L344.2 299.8L340.2 303.4L336.1 299ZM343.9 299.5L347.9 304L343.9 307.6L339.9 303.1Z" fill="#a2ff5d"/>
<path d="M328.8 245.3L332.8 249.8L328.8 253.4L324.7 248.9ZM291.3 211.2L295.3 215.7L291.3 219.3L287.3 214.8ZM298.8 219.5L302.8 224L298.8 227.6L294.8 223.1ZM325 248.7L329.1 253.1L325 256.7L321 252.3ZM332.5 257L336.5 261.4L332.5 265.1L328.5 260.6ZM336.3 261.1L340.3 265.6L336.3 269.2L332.3 264.8ZM340 265.3L344 269.8L340 273.4L336 268.9ZM355 282L359 286.4L355 290L351 285.6ZM313.8 243.7L317.8 248.1L313.8 251.8L309.8 247.3ZM317.6 247.8L321.6 252.3L317.6 255.9L313.6 251.5ZM336.3 268.7L340.3 273.1L336.3 276.7L332.3 272.3ZM358.8 293.6L362.8 298.1L358.8 301.7L354.8 297.2ZM362.5 297.8L366.6 302.2L362.5 305.9L358.5 301.4ZM287.6 222.1L291.6 226.5L287.6 230.1L283.6 225.7ZM295.1 230.4L299.1 234.8L295.1 238.5L291.1 234ZM306.4 242.9L310.4 247.3L306.4 250.9L302.4 246.5ZM310.1 247L314.1 251.5L310.1 255.1L306.1 250.6ZM313.9 251.2L317.9 255.7L313.9 259.3L309.8 254.8ZM325.1 263.7L329.1 268.1L325.1 271.8L321.1 267.3ZM343.8 284.5L347.9 288.9L343.8 292.6L339.8 288.1ZM362.6 305.3L366.6 309.8L362.6 313.4L358.6 308.9ZM373.8 317.8L377.8 322.2L373.8 325.9L369.8 321.4ZM291.4 233.7L295.4 238.2L291.4 241.8L287.4 237.3ZM302.6 246.2L306.7 250.7L302.7 254.3L298.6 249.8ZM306.4 250.4L310.4 254.8L306.4 258.5L302.4 254ZM310.1 254.5L314.2 259L310.1 262.6L306.1 258.2ZM355.1 304.5L359.1 308.9L355.1 312.6L351.1 308.1ZM370.1 321.1L374.1 325.6L370.1 329.2L366.1 324.7ZM310.2 262L314.2 266.5L310.2 270.1L306.2 265.7ZM332.7 287L336.7 291.5L332.7 295.1L328.6 290.6ZM336.4 291.2L340.4 295.6L336.4 299.3L332.4 294.8Z" fill="#9dff62"/>
<path d="M283.8 202.9L287.8 207.3L283.8 211L279.8 206.5ZM283.9 210.4L287.9 214.9L283.9 218.5L279.8 214ZM306.3 235.4L310.3 239.8L306.3 243.4L302.3 239ZM325.1 256.2L329.1 260.6L325.1 264.2L321.1 259.8ZM340.1 272.8L344.1 277.3L340.1 280.9L336 276.4ZM343.8 277L347.8 281.4L343.8 285.1L339.8 280.6ZM355 289.5L359.1 293.9L355 297.5L351 293.1ZM298.9 234.5L302.9 239L298.9 242.6L294.9 238.2ZM355.1 297L359.1 301.4L355.1 305L351.1 300.6ZM358.8 301.1L362.8 305.6L358.8 309.2L354.8 304.7ZM366.3 309.5L370.3 313.9L366.3 317.5L362.3 313.1ZM370.1 313.6L374.1 318.1L370.1 321.7L366.1 317.2ZM373.8 325.3L377.9 329.7L373.8 333.4L369.8 328.9ZM306.4 257.9L310.4 262.3L306.4 266L302.4 261.5ZM351.4 307.8L355.4 312.3L351.4 315.9L347.4 311.4Z" fill="#a8ff57"/>
<path d="M291 203.5L300.8 214.9L303 217.7L299.7 220.4L289.9 207.3Z" fill="#fbff04"/>
<path d="M333.6 261.9L346.7 275L348.9 278.3L345.6 278.8L332.5 266.3Z" fill="#edff12"/>
<path d="M291 225.9L299.7 234.6L296.5 236.8L288.8 229.1Z" fill="#e5ff1a"/>
<path d="M286 194.3L292.1 200.9L287.7 205L281.6 198.4Z" fill="#ffa400"/>
<path d="M283.9 215.6L288.7 220.7L285 224.1L280.2 219ZM288.5 218.9L293.2 224L289.6 227.4L284.8 222.3Z" fill="#37ffc8"/>
<path d="M280.6 210.1L285.4 215.3L281.7 218.7L277 213.5ZM327.9 284.9L331.3 288.6L328.4 291.3L325 287.7ZM306 220.5L309.5 224.2L306.5 226.9L303.1 223.2ZM326.6 245.8L330 249.4L327.5 251.8L324.1 248.2ZM369 310.2L373.1 314.6L370.2 317.4L366.1 313Z" fill="#71ff8e"/>
<path d="M313.3 228.3L317.4 232.7L314.5 235.4L310.4 231ZM319.9 236.7L324 241.1L321.1 243.8L317 239.5ZM332.6 256.7L336 260.4L332.4 263.8L329 260.2ZM361 298.2L364.4 301.9L361.9 304.3L358.5 300.6Z" fill="#00edff"/>
<path d="M314.5 235.3L319.2 240.4L315.6 243.8L310.8 238.7Z" fill="#00fbff"/>
<path d="M313.6 266.7L317.5 270.8L313.8 274.2L310 270.1Z" fill="#003bff"/>
<path d="M348.6 271.6L352 275.3L349.1 278L345.7 274.3Z" fill="#54ffab"/>
<path d="M353.3 285.3L358.7 291.2L354.3 295.3L348.9 289.4Z" fill="#00e5ff"/>
<path d="M342.1 300.6L346.2 305L343.6 307.3L339.5 303Z" fill="#21ffde"/>
<path d="M365 303.1L367.7 306L365.5 308.1L362.8 305.2Z" fill="#fff400"/>
<path d="M304.6 251.8L308.7 256.2L305.8 258.9L301.7 254.5Z" fill="#e5ff1a"/>
<path d="M281.2 336.8L288.6 339.8L287.7 342.1L280.3 339.1ZM287 335.8L299.1 340.7L297.2 345.3L285.1 340.4ZM288.7 339.4L301.7 344.7L299.8 349.3L286.8 344.1ZM295.7 344.3L303.1 347.3L301.6 351L294.2 348ZM313.2 333.7L329 340.1L327.8 343L312 336.7ZM342.9 347.9L349.4 350.5L348.3 353.3L341.8 350.7ZM336.9 342.8L344.3 345.8L343.4 348.1L336 345.1Z" fill="#00f0ff"/>
<path d="M302.8 341.4L313.9 345.9L312 350.6L300.9 346.1Z" fill="#00f4ff"/>
<path d="M313.3 347.8L324.4 352.3L323.3 355.1L312.2 350.6Z" fill="#37ffc8"/>
<path d="M314.9 344.2L325.1 348.3L323.9 351.1L313.7 347Z" fill="#00d7ff"/>
<path d="M329 338L342 343.3L340.3 347.4L327.3 342.2Z" fill="#00deff"/>
<path d="M332.5 343.1L340.9 346.5L339 351.1L330.7 347.7Z" fill="#00b2ff"/>
<path d="M331.6 346.9L337.1 349.1L335.6 352.8L330.1 350.6Z" fill="#00a4ff"/>
<path d="M326.4 346.4L331.5 348.5L329.8 352.6L324.7 350.6ZM337.9 346.7L343 348.8L341.3 353L336.2 350.9Z" fill="#80ff80"/>
<path d="M345.3 346.8L349 348.3L348.1 350.7L344.4 349.2Z" fill="#abff54"/>
<path d="M173.7 366L179.4 366L179.4 371.6L173.7 371.6ZM179 371.2L184.7 371.2L184.7 376.8L179 376.8ZM184.3 371.2L190 371.2L190 376.8L184.3 376.8ZM189.6 371.2L195.3 371.2L195.3 376.8L189.6 376.8ZM189.6 376.4L195.3 376.4L195.3 382L189.6 382ZM210.8 386.8L216.5 386.8L216.5 392.4L210.8 392.4ZM221.4 386.8L227.1 386.8L227.1 392.4L221.4 392.4ZM226.7 386.8L232.4 386.8L232.4 392.4L226.7 392.4ZM232 386.8L237.7 386.8L237.7 392.4L232 392.4ZM237.3 386.8L243 386.8L243 392.4L237.3 392.4ZM237.3 392L243 392L243 397.6L237.3 397.6ZM189.6 397.2L195.3 397.2L195.3 402.8L189.6 402.8ZM237.3 397.2L243 397.2L243 402.8L237.3 402.8ZM242.6 397.2L248.3 397.2L248.3 402.8L242.6 402.8ZM269.1 397.2L274.8 397.2L274.8 402.8L269.1 402.8ZM274.4 397.2L280.1 397.2L280.1 402.8L274.4 402.8ZM327.4 397.2L333.1 397.2L333.1 402.8L327.4 402.8ZM295.6 402.4L301.3 402.4L301.3 408L295.6 408ZM300.9 402.4L306.6 402.4L306.6 408L300.9 408ZM327.4 402.4L333.1 402.4L333.1 408L327.4 408ZM332.7 402.4L338.4 402.4L338.4 408L332.7 408ZM258.5 407.6L264.2 407.6L264.2 413.2L258.5 413.2ZM269.1 407.6L274.8 407.6L274.8 413.2L269.1 413.2ZM295.6 407.6L301.3 407.6L301.3 413.2L295.6 413.2ZM300.9 407.6L306.6 407.6L306.6 413.2L300.9 413.2ZM327.4 407.6L333.1 407.6L333.1 413.2L327.4 413.2Z" fill="#8bff74"/>
<path d="M179 366L184.7 366L184.7 371.6L179 371.6ZM173.7 376.4L179.4 376.4L179.4 382L173.7 382ZM194.9 376.4L200.6 376.4L200.6 382L194.9 382ZM210.8 376.4L216.5 376.4L216.5 382L210.8 382ZM173.7 381.6L179.4 381.6L179.4 387.2L173.7 387.2ZM184.3 381.6L190 381.6L190 387.2L184.3 387.2ZM226.7 381.6L232.4 381.6L232.4 387.2L226.7 387.2ZM179 386.8L184.7 386.8L184.7 392.4L179 392.4ZM205.5 386.8L211.2 386.8L211.2 392.4L205.5 392.4ZM242.6 386.8L248.3 386.8L248.3 392.4L242.6 392.4ZM205.5 392L211.2 392L211.2 397.6L205.5 397.6ZM221.4 392L227.1 392L227.1 397.6L221.4 397.6ZM258.5 392L264.2 392L264.2 397.6L258.5 397.6ZM269.1 392L274.8 392L274.8 397.6L269.1 397.6ZM184.3 397.2L190 397.2L190 402.8L184.3 402.8ZM295.6 397.2L301.3 397.2L301.3 402.8L295.6 402.8ZM300.9 397.2L306.6 397.2L306.6 402.8L300.9 402.8ZM274.4 402.4L280.1 402.4L280.1 408L274.4 408ZM279.7 402.4L285.4 402.4L285.4 408L279.7 408ZM290.3 402.4L296 402.4L296 408L290.3 408ZM338 402.4L343.7 402.4L343.7 408L338 408ZM311.5 407.6L317.2 407.6L317.2 413.2L311.5 413.2Z" fill="#a8ff57"/>
<path d="M184.3 366L190 366L190 371.6L184.3 371.6ZM194.9 366L200.6 366L200.6 371.6L194.9 371.6ZM200.2 376.4L205.9 376.4L205.9 382L200.2 382ZM205.5 376.4L211.2 376.4L211.2 382L205.5 382ZM216.1 381.6L221.8 381.6L221.8 387.2L216.1 387.2ZM247.9 386.8L253.6 386.8L253.6 392.4L247.9 392.4ZM189.6 392L195.3 392L195.3 397.6L189.6 397.6ZM216.1 392L221.8 392L221.8 397.6L216.1 397.6ZM216.1 397.2L221.8 397.2L221.8 402.8L216.1 402.8ZM247.9 397.2L253.6 397.2L253.6 402.8L247.9 402.8ZM285 397.2L290.7 397.2L290.7 402.8L285 402.8ZM290.3 397.2L296 397.2L296 402.8L290.3 402.8ZM338 397.2L343.7 397.2L343.7 402.8L338 402.8ZM253.2 402.4L258.9 402.4L258.9 408L253.2 408ZM311.5 402.4L317.2 402.4L317.2 408L311.5 408ZM322.1 402.4L327.8 402.4L327.8 408L322.1 408ZM279.7 407.6L285.4 407.6L285.4 413.2L279.7 413.2ZM285 407.6L290.7 407.6L290.7 413.2L285 413.2ZM316.8 407.6L322.5 407.6L322.5 413.2L316.8 413.2Z" fill="#9dff62"/>
<path d="M173.7 371.2L179.4 371.2L179.4 376.8L173.7 376.8ZM216.1 376.4L221.8 376.4L221.8 382L216.1 382ZM179 381.6L184.7 381.6L184.7 387.2L179 387.2ZM194.9 381.6L200.6 381.6L200.6 387.2L194.9 387.2ZM194.9 386.8L200.6 386.8L200.6 392.4L194.9 392.4ZM200.2 386.8L205.9 386.8L205.9 392.4L200.2 392.4ZM216.1 386.8L221.8 386.8L221.8 392.4L216.1 392.4ZM184.3 392L190 392L190 397.6L184.3 397.6ZM200.2 392L205.9 392L205.9 397.6L200.2 397.6ZM210.8 392L216.5 392L216.5 397.6L210.8 397.6ZM253.2 392L258.9 392L258.9 397.6L253.2 397.6ZM253.2 397.2L258.9 397.2L258.9 402.8L253.2 402.8ZM258.5 397.2L264.2 397.2L264.2 402.8L258.5 402.8ZM247.9 402.4L253.6 402.4L253.6 408L247.9 408ZM306.2 402.4L311.9 402.4L311.9 408L306.2 408ZM263.8 407.6L269.5 407.6L269.5 413.2L263.8 413.2ZM306.2 407.6L311.9 407.6L311.9 413.2L306.2 413.2Z" fill="#a2ff5d"/>
<path d="M194.9 371.2L200.6 371.2L200.6 376.8L194.9 376.8ZM184.3 376.4L190 376.4L190 382L184.3 382ZM237.3 376.4L243 376.4L243 382L237.3 382ZM189.6 381.6L195.3 381.6L195.3 387.2L189.6 387.2ZM200.2 381.6L205.9 381.6L205.9 387.2L200.2 387.2ZM210.8 381.6L216.5 381.6L216.5 387.2L210.8 387.2ZM221.4 381.6L227.1 381.6L227.1 387.2L221.4 387.2ZM232 381.6L237.7 381.6L237.7 387.2L232 387.2ZM242.6 381.6L248.3 381.6L248.3 387.2L242.6 387.2ZM247.9 381.6L253.6 381.6L253.6 387.2L247.9 387.2ZM184.3 386.8L190 386.8L190 392.4L184.3 392.4ZM253.2 386.8L258.9 386.8L258.9 392.4L253.2 392.4ZM226.7 392L232.4 392L232.4 397.6L226.7 397.6ZM242.6 392L248.3 392L248.3 397.6L242.6 397.6ZM247.9 392L253.6 392L253.6 397.6L247.9 397.6ZM221.4 397.2L227.1 397.2L227.1 402.8L221.4 402.8ZM226.7 397.2L232.4 397.2L232.4 402.8L226.7 402.8ZM263.8 397.2L269.5 397.2L269.5 402.8L263.8 402.8ZM279.7 397.2L285.4 397.2L285.4 402.8L279.7 402.8ZM306.2 397.2L311.9 397.2L311.9 402.8L306.2 402.8ZM242.6 402.4L248.3 402.4L248.3 408L242.6 408ZM285 402.4L290.7 402.4L290.7 408L285 408ZM290.3 407.6L296 407.6L296 413.2L290.3 413.2Z" fill="#94ff6b"/>
<path d="M179 376.4L184.7 376.4L184.7 382L179 382ZM205.5 381.6L211.2 381.6L211.2 387.2L205.5 387.2ZM237.3 381.6L243 381.6L243 387.2L237.3 387.2ZM253.2 381.6L258.9 381.6L258.9 387.2L253.2 387.2ZM263.8 381.6L269.5 381.6L269.5 387.2L263.8 387.2ZM189.6 386.8L195.3 386.8L195.3 392.4L189.6 392.4ZM258.5 386.8L264.2 386.8L264.2 392.4L258.5 392.4ZM263.8 386.8L269.5 386.8L269.5 392.4L263.8 392.4ZM232 392L237.7 392L237.7 397.6L232 397.6ZM263.8 392L269.5 392L269.5 397.6L263.8 397.6ZM232 397.2L237.7 397.2L237.7 402.8L232 402.8ZM258.5 402.4L264.2 402.4L264.2 408L258.5 408ZM263.8 402.4L269.5 402.4L269.5 408L263.8 408ZM269.1 402.4L274.8 402.4L274.8 408L269.1 408ZM316.8 402.4L322.5 402.4L322.5 408L316.8 408ZM343.3 402.4L349 402.4L349 408L343.3 408ZM274.4 407.6L280.1 407.6L280.1 413.2L274.4 413.2ZM322.1 407.6L327.8 407.6L327.8 413.2L322.1 413.2ZM332.7 407.6L338.4 407.6L338.4 413.2L332.7 413.2ZM338 407.6L343.7 407.6L343.7 413.2L338 413.2Z" fill="#aeff51"/>
<path d="M124.1 342.9L130 342.9L130 348.6L124.1 348.6ZM140.6 353.5L146.5 353.5L146.5 359.2L140.6 359.2ZM157.1 364.1L163 364.1L163 369.8L157.1 369.8ZM146.1 374.7L152 374.7L152 380.4L146.1 380.4ZM168.1 374.7L174 374.7L174 380.4L168.1 380.4ZM168.1 380L174 380L174 385.7L168.1 385.7Z" fill="#aeff51"/>
<path d="M124.1 348.2L130 348.2L130 353.9L124.1 353.9Z" fill="#94ff6b"/>
<path d="M124.1 353.5L130 353.5L130 359.2L124.1 359.2ZM129.6 353.5L135.5 353.5L135.5 359.2L129.6 359.2ZM157.1 374.7L163 374.7L163 380.4L157.1 380.4ZM157.1 380L163 380L163 385.7L157.1 385.7Z" fill="#9dff62"/>
<path d="M135.1 353.5L141 353.5L141 359.2L135.1 359.2ZM135.1 358.8L141 358.8L141 364.5L135.1 364.5ZM146.1 358.8L152 358.8L152 364.5L146.1 364.5ZM146.1 364.1L152 364.1L152 369.8L146.1 369.8ZM146.1 369.4L152 369.4L152 375.1L146.1 375.1ZM157.1 369.4L163 369.4L163 375.1L157.1 375.1ZM162.6 369.4L168.5 369.4L168.5 375.1L162.6 375.1ZM168.1 369.4L174 369.4L174 375.1L168.1 375.1ZM151.6 374.7L157.5 374.7L157.5 380.4L151.6 380.4Z" fill="#8bff74"/>
<path d="M129.6 358.8L135.5 358.8L135.5 364.5L129.6 364.5ZM140.6 358.8L146.5 358.8L146.5 364.5L140.6 364.5ZM135.1 364.1L141 364.1L141 369.8L135.1 369.8ZM162.6 364.1L168.5 364.1L168.5 369.8L162.6 369.8ZM168.1 364.1L174 364.1L174 369.8L168.1 369.8ZM162.6 374.7L168.5 374.7L168.5 380.4L162.6 380.4ZM162.6 380L168.5 380L168.5 385.7L162.6 385.7Z" fill="#a2ff5d"/>
<path d="M140.6 364.1L146.5 364.1L146.5 369.8L140.6 369.8ZM151.6 364.1L157.5 364.1L157.5 369.8L151.6 369.8ZM140.6 369.4L146.5 369.4L146.5 375.1L140.6 375.1ZM151.6 369.4L157.5 369.4L157.5 375.1L151.6 375.1Z" fill="#a8ff57"/>
<path d="M125.3 342.6H131.3V347.8H125.3ZM135 355.6H140.2V361.3H135ZM144 373.2H149.2V378.4H144ZM262.8 388.2H270.2V395.6H262.8ZM169.8 400.1H181.3V404.9H169.8Z" fill="#71ff8e"/>
<path d="M123.8 347.8H129.8V358.3H123.8ZM203.7 401.6H214.9V404.9H203.7Z" fill="#00fbff"/>
<path d="M128.3 359.8H134.3V365H128.3ZM143.2 383.7H154V389.3H143.2ZM148.5 378.9H154.4V384H148.5Z" fill="#00a4ff"/>
<path d="M129.8 354.5H135V359.8H129.8ZM237.4 385.2H242.6V389.6H237.4Z" fill="#1affe5"/>
<path d="M134.3 359.8H139.5V365H134.3ZM238.1 377.7H243.3V381.9H238.1ZM242.6 389.6H247.8V393.4H242.6Z" fill="#37ffc8"/>
<path d="M140.2 356.8H145.5V362H140.2Z" fill="#78ff87"/>
<path d="M138.7 362H149.9V370.2H138.7ZM315 408.3H321V411.3H315Z" fill="#54ffab"/>
<path d="M144.7 368H150.7V373.2H144.7ZM214.9 375.5H221.2V379.2H214.9ZM247.8 404.6H253.8V407.6H247.8Z" fill="#fff400"/>
<path d="M155.2 374H160V383.7H155.2ZM131.6 383.4H137.5V388.5H131.6Z" fill="#ffb300"/>
<path d="M160 374.7H167.1V383.7H160Z" fill="#ffed00"/>
<path d="M164.1 364.2H179.1V370.2H164.1Z" fill="#f4ff0b"/>
<path d="M179.1 366.5H188.8V371H179.1Z" fill="#0bfff4"/>
<path d="M167.1 370.2H172.4V374.7H167.1ZM249.3 382.9H259.8V386.7H249.3ZM137.5 383.7H143.2V388.9H137.5Z" fill="#45ffba"/>
<path d="M182.1 371.7H203V377.7H182.1Z" fill="#e5ff1a"/>
<path d="M199.3 377.7H204.5V382.2H199.3Z" fill="#ff5b00"/>
<path d="M210.5 383.7H232.9V391.1H210.5Z" fill="#80ff80"/>
<path d="M343.4 403.1H348.2V406.8H343.4Z" fill="#62ff9d"/>
<path d="M209 396.4H214.9V401.9H209Z" fill="#00f0ff"/>
<path d="M129 324.7H140.5V331.4H129Z" fill="#0087ff"/>
<path d="M134.7 326.3H140.5V331.4H134.7Z" fill="#004dff"/>
<path d="M237.6 418.1L243.5 417.5L244 422.1L238 422.7ZM238 422.3L244 421.7L244.4 426.3L238.5 426.9ZM249.1 421.1L255.1 420.5L255.6 425.1L249.6 425.7ZM254.7 420.6L260.7 419.9L261.2 424.5L255.2 425.1ZM271.4 418.8L277.4 418.2L277.9 422.7L271.9 423.4ZM260.7 424.1L266.7 423.5L267.2 428.1L261.2 428.7ZM299.7 420L305.7 419.4L306.1 424L300.2 424.6ZM310.8 418.9L316.8 418.2L317.3 422.8L311.3 423.5ZM316.8 422.5L322.8 421.8L323.3 426.4L317.3 427ZM345.1 423.7L351.1 423.1L351.6 427.7L345.6 428.3ZM289.9 433.7L295.8 433.1L296.3 437.7L290.4 438.3ZM323.3 430.2L329.3 429.6L329.7 434.2L323.8 434.8ZM340 428.5L346 427.9L346.5 432.4L340.5 433.1ZM312.6 435.6L318.6 435L319 439.5L313.1 440.2Z" fill="#00aaff"/>
<path d="M243.1 417.5L249.1 416.9L249.6 421.5L243.6 422.1ZM276.5 414L282.5 413.4L283 418L277 418.6ZM282.1 413.4L288.1 412.8L288.6 417.4L282.6 418ZM282.6 417.6L288.5 417L289 421.6L283 422.2ZM255.1 424.7L261.1 424.1L261.6 428.7L255.6 429.3ZM266.3 423.6L272.3 422.9L272.7 427.5L266.8 428.1ZM327.5 417.1L333.5 416.5L334 421.1L328 421.7ZM333.1 416.5L339.1 415.9L339.6 420.5L333.6 421.1ZM272.3 427.2L278.3 426.5L278.7 431.1L272.8 431.7ZM289 425.4L295 424.8L295.4 429.3L289.5 430ZM305.7 423.6L311.7 423L312.2 427.6L306.2 428.2ZM272.7 431.3L278.7 430.7L279.2 435.3L273.2 435.9ZM311.7 427.2L317.7 426.6L318.2 431.2L312.2 431.8ZM317.3 426.6L323.3 426L323.7 430.6L317.8 431.2ZM334 424.9L340 424.3L340.4 428.8L334.5 429.5ZM339.6 424.3L345.5 423.7L346 428.3L340 428.9ZM278.7 434.9L284.7 434.3L285.2 438.9L279.2 439.5ZM295.4 433.2L301.4 432.5L301.9 437.1L295.9 437.7ZM329.3 433.8L335.3 433.2L335.8 437.8L329.8 438.4ZM334.9 433.2L340.8 432.6L341.3 437.2L335.4 437.8Z" fill="#009eff"/>
<path d="M243.6 421.7L249.5 421.1L250 425.7L244 426.3ZM260.3 420L266.2 419.3L266.7 423.9L260.8 424.5ZM277 418.2L283 417.6L283.4 422.2L277.5 422.8ZM288.1 417L294.1 416.4L294.6 421L288.6 421.6ZM249.6 425.3L255.5 424.7L256 429.3L250.1 429.9ZM277.4 422.4L283.4 421.8L283.9 426.3L277.9 427ZM283.9 430.2L289.8 429.5L290.3 434.1L284.4 434.7ZM289.4 429.6L295.4 428.9L295.9 433.5L289.9 434.1ZM306.1 427.8L312.1 427.2L312.6 431.8L306.6 432.4ZM306.6 432L312.6 431.4L313 435.9L307.1 436.6ZM312.2 431.4L318.1 430.8L318.6 435.4L312.6 436ZM328.9 429.7L334.8 429L335.3 433.6L329.3 434.2ZM318.2 435L324.1 434.4L324.6 438.9L318.6 439.6Z" fill="#0087ff"/>
<path d="M265.8 419.4L271.8 418.8L272.3 423.3L266.3 424ZM271.9 423L277.8 422.3L278.3 426.9L272.3 427.5ZM283 421.8L289 421.2L289.4 425.8L283.5 426.4ZM288.6 421.2L294.5 420.6L295 425.2L289 425.8ZM322 417.7L327.9 417.1L328.4 421.7L322.5 422.3ZM266.7 427.7L272.7 427.1L273.2 431.7L267.2 432.3ZM277.9 426.6L283.8 425.9L284.3 430.5L278.3 431.1ZM322.4 421.9L328.4 421.3L328.9 425.8L322.9 426.5ZM278.3 430.7L284.3 430.1L284.7 434.7L278.8 435.3ZM295 429L301 428.4L301.5 432.9L295.5 433.6ZM322.9 426.1L328.8 425.4L329.3 430L323.3 430.6ZM284.3 434.3L290.3 433.7L290.8 438.3L284.8 438.9ZM301 432.6L307 432L307.5 436.5L301.5 437.2ZM317.7 430.8L323.7 430.2L324.2 434.8L318.2 435.4ZM334.4 429.1L340.4 428.4L340.9 433L334.9 433.6ZM345.6 427.9L351.5 427.3L352 431.8L346.1 432.5ZM307 436.2L313 435.5L313.5 440.1L307.5 440.7Z" fill="#0095ff"/>
<path d="M293.7 416.5L299.7 415.8L300.1 420.4L294.2 421ZM294.1 420.6L300.1 420L300.6 424.6L294.6 425.2ZM305.3 419.5L311.2 418.8L311.7 423.4L305.8 424ZM316.4 418.3L322.4 417.7L322.9 422.2L316.9 422.9ZM261.2 428.3L267.1 427.7L267.6 432.3L261.6 432.9ZM283.4 426L289.4 425.4L289.9 429.9L283.9 430.6ZM294.6 424.8L300.5 424.2L301 428.8L295.1 429.4ZM300.1 424.2L306.1 423.6L306.6 428.2L300.6 428.8ZM311.3 423.1L317.2 422.4L317.7 427L311.8 427.6ZM328 421.3L334 420.7L334.4 425.2L328.5 425.9ZM333.6 420.7L339.5 420.1L340 424.7L334 425.3ZM339.1 420.1L345.1 419.5L345.6 424.1L339.6 424.7ZM300.6 428.4L306.5 427.8L307 432.3L301.1 433ZM328.4 425.5L334.4 424.8L334.9 429.4L328.9 430ZM323.7 434.4L329.7 433.8L330.2 438.4L324.2 439Z" fill="#0090ff"/>
<path d="M237.4 419.5L276.2 418L276.2 413.9L287.4 413.3L287.4 415.8L282.2 419.5L279.9 424.8L265.7 425.5L249.3 426.7L238.1 426.7Z" fill="#0028ff"/>
<path d="M243.3 419.5H253.8V422.8H243.3Z" fill="#0000f4"/>
<path d="M260.5 419.5H265.7V424H260.5Z" fill="#0000e6"/>
<path d="M249.3 422.8H260.5V428.8H249.3Z" fill="#0062ff"/>
<path d="M292.6 419.5H343.4V425.5H292.6Z" fill="#00b2ff"/>
<path d="M340.4 430H345.7V432.2H340.4Z" fill="#abff54"/>
<path d="M344.9 422.8H350.6V433H344.9Z" fill="#006dff"/>
<path d="M307.6 428.5H331.5V434.5H307.6Z" fill="#0087ff"/>
<path d="M238.4 477.6L243.9 475.4L245.7 479.8L240.2 482.1ZM245.2 479.6L250.8 477.4L252.6 481.8L247 484.1Z" fill="#f10000"/>
<path d="M243.6 475.5L249.1 473.3L250.9 477.7L245.4 480ZM250.4 477.5L256 475.3L257.8 479.7L252.2 482Z" fill="#fb0000"/>
<path d="M274.7 463L280.3 460.7L282.1 465.2L276.5 467.4ZM281.6 464.9L287.1 462.7L288.9 467.1L283.4 469.4ZM312.7 452.4L318.3 450.1L320.1 454.6L314.5 456.8ZM288.4 466.9L294 464.7L295.8 469.1L290.2 471.4ZM293.6 464.8L299.2 462.6L301 467L295.4 469.3ZM290.1 471L295.6 468.8L297.4 473.2L291.9 475.5ZM300.4 466.8L306 464.6L307.8 469L302.2 471.3ZM342 450L347.5 447.8L349.3 452.2L343.8 454.5ZM291.7 475.1L297.3 472.8L299.1 477.3L293.5 479.5ZM328 460.4L333.6 458.1L335.4 462.6L329.8 464.8ZM343.6 454.1L349.2 451.9L351 456.3L345.4 458.6Z" fill="#ff0f00"/>
<path d="M279.9 460.9L285.5 458.6L287.3 463.1L281.7 465.3ZM292 460.7L297.5 458.5L299.3 462.9L293.7 465.2ZM297.1 458.6L302.7 456.4L304.5 460.9L298.9 463.1ZM257.3 479.5L262.8 477.3L264.6 481.7L259.1 484ZM278 471.1L283.6 468.9L285.4 473.3L279.8 475.6ZM283.2 469L288.8 466.8L290.6 471.2L285 473.5ZM298.8 462.7L304.4 460.5L306.2 464.9L300.6 467.2ZM309.2 458.5L314.7 456.3L316.5 460.7L311 463ZM329.9 450.1L335.5 447.9L337.3 452.3L331.7 454.6ZM274.5 477.3L280 475L281.8 479.5L276.3 481.7ZM305.6 464.7L311.2 462.5L313 466.9L307.4 469.2ZM321.2 458.4L326.8 456.2L328.6 460.6L323 462.9ZM326.4 456.3L332 454.1L333.8 458.5L328.2 460.8Z" fill="#ff1500"/>
<path d="M255.6 475.4L261.2 473.2L263 477.6L257.4 479.9ZM286.8 462.8L292.3 460.6L294.1 465L288.6 467.3ZM262.4 477.4L268 475.2L269.8 479.6L264.2 481.9ZM272.8 473.2L278.4 471L280.2 475.4L274.6 477.7ZM314.4 456.4L319.9 454.2L321.7 458.6L316.2 460.9ZM279.7 475.2L285.2 473L287 477.4L281.5 479.6ZM310.8 462.6L316.4 460.4L318.2 464.8L312.6 467.1ZM316 460.5L321.6 458.3L323.4 462.7L317.8 465ZM336.8 452.1L342.3 449.9L344.1 454.3L338.6 456.6ZM338.4 456.2L344 454L345.8 458.4L340.2 460.7ZM348.8 452L354.4 449.8L356.2 454.2L350.6 456.5Z" fill="#ff1b00"/>
<path d="M260.8 473.3L266.4 471.1L268.2 475.5L262.6 477.8Z" fill="#ff4500"/>
<path d="M266 471.2L271.6 469L273.4 473.4L267.8 475.7Z" fill="#ff5400"/>
<path d="M271.2 469.1L276.7 466.9L278.5 471.3L273 473.6ZM276.4 467L281.9 464.8L283.7 469.2L278.2 471.5Z" fill="#ff3b00"/>
<path d="M307.5 454.5L313.1 452.2L314.9 456.7L309.3 458.9ZM267.6 475.3L273.2 473.1L275 477.5L269.4 479.8ZM304 460.6L309.5 458.4L311.3 462.8L305.8 465.1ZM319.6 454.3L325.1 452.1L326.9 456.5L321.4 458.8ZM324.8 452.2L330.3 450L332.1 454.4L326.6 456.7ZM335.1 448L340.7 445.8L342.5 450.2L336.9 452.5ZM340.3 445.9L345.9 443.7L347.7 448.1L342.1 450.4ZM284.9 473.1L290.4 470.9L292.2 475.3L286.7 477.6ZM295.2 468.9L300.8 466.7L302.6 471.1L297 473.4ZM331.6 454.2L337.2 452L339 456.4L333.4 458.7Z" fill="#ff0900"/>
<path d="M317.3 464.8L322 463.7L323 466.1L318.3 467.8Z" fill="#ff1200" stroke="#ff1200" stroke-width="0.9"/>
<path d="M314.6 473.2L324 468.8L325 470.8L315.6 475.6Z" fill="#0095ff" stroke="#0095ff" stroke-width="0.9"/>
<path d="M326.7 472.2L341.6 465.4L342.3 467.5L327.7 474.9Z" fill="#3effc1" stroke="#3effc1" stroke-width="0.9"/>
<path d="M323.3 477.3L330.8 475.6L330.1 479L324 480.3Z" fill="#5bffa4" stroke="#5bffa4" stroke-width="0.9"/>
<path d="M321.3 484.7L330.8 480L331.5 482.3L322.3 487.1Z" fill="#008eff" stroke="#008eff" stroke-width="0.9"/>
<path d="M315.6 485.7L320.6 484L321.7 488.4L316.9 490.1Z" fill="#54ffab" stroke="#54ffab" stroke-width="0.9"/>
<path d="M322.7 487.1L328.1 485.4L328.4 487.4L323.7 489.1Z" fill="#80ff80" stroke="#80ff80" stroke-width="0.9"/>
<path d="M315.2 495.9L324 490.1L325.4 492.5L321.3 494.5L322.7 497.2L317.9 499.2L317.3 497.2Z" fill="#0075ff" stroke="#0075ff" stroke-width="0.9"/>
<path d="M312.2 501.6L319 497.9L320 499.9L313.5 504Z" fill="#0098ff" stroke="#0098ff" stroke-width="0.9"/>
<path d="M354.5 464.1L359.2 462.1L361.6 465.8L357.2 467.5Z" fill="#00deff" stroke="#00deff" stroke-width="0.9"/>
<path d="M351.8 471.5L357.8 468.1L358.5 469.8L352.4 472.9Z" fill="#00a4ff" stroke="#00a4ff" stroke-width="0.9"/>
<path d="M347.7 474.2L358.5 470.5L359.2 472.9L349 477.6Z" fill="#37ffc8" stroke="#37ffc8" stroke-width="0.9"/>
<path d="M351.1 479.6L355.8 477.3L356.8 479L352.1 481.7Z" fill="#00e5ff" stroke="#00e5ff" stroke-width="0.9"/>
<path d="M346.3 483L351.8 481L352.4 482.7L347.4 484.7Z" fill="#45ffba" stroke="#45ffba" stroke-width="0.9"/>
<path d="M339.6 491.5L354.5 484L355.8 487.1L348.4 492.5L340.9 493.5Z" fill="#2fffd0" stroke="#2fffd0" stroke-width="0.9"/>
<path d="M164.1 500.2L187.3 492L191.8 492L193.3 500.2L179.8 506.9L179.1 512.9L174.6 512.9L173.1 508.4L167.1 509.2Z" fill="#ab0000"/>
<path d="M172.5 498.8L180.8 495.5L182.7 500.1L174.4 503.5Z" fill="#fb0000"/>
<path d="M165.7 505.8L173.1 502.8L174.6 506.5L167.2 509.5Z" fill="#f40000"/>
<path d="M179.5 494.6L185 492.4L187.1 497.5L181.5 499.7Z" fill="#ff9500"/>
<path d="M185 493.1L190.5 490.9L192.6 496L187 498.2Z" fill="#abff54"/>
<path d="M178.4 502L191.4 496.8L193.2 501.4L180.3 506.6Z" fill="#870000"/>
<path d="M285.4 510.6L294.9 505.1L299.9 513.7L290.4 519.2Z" fill="#008eff"/>
<path d="M278.5 520.7L288.1 515.2L290.3 519.1L280.8 524.6ZM285.7 517.2L292.6 513.2L295.1 517.6L288.2 521.6ZM281.8 530.1L289.6 525.6L293.1 531.6L285.3 536.1ZM280.1 533.6L285.3 530.6L287.3 534.1L282.1 537.1Z" fill="#0095ff"/>
</g>
<use href="#grid"/>
<use href="#axes"/>
<text class="t" x="202.5" y="28.4" textLength="315.5" lengthAdjust="spacing">Carrington Latitude</text>
<text class="t" x="521" y="28.4" textLength="25.3" lengthAdjust="spacingAndGlyphs">=</text>
<text class="t" x="549.2" y="28.4">0<tspan dx="-1.6" dy="-1.6" style="font-size:32px">°</tspan></text>
<text class="t" x="2.3" y="38.5">(</text><text class="t" x="13.1" y="38.5" style="font-size:36.6px">R</text><text class="t" x="37.9" y="49.8" style="font-size:25px" textLength="40" lengthAdjust="spacingAndGlyphs">Sun</text><text class="t" x="78" y="38.5">)</text>
<text class="p" x="634.4" y="155.2">(</text><text class="p" x="676.9" y="149.3" style="font-size:93px">b</text><text class="p" x="739.5" y="155.2">)</text>
</g>
<g transform="translate(0 900.9)">
<g clip-path="url(#cp)">
<path d="M247.3 139.5L285.3 113.9L293.1 127.9L290.8 131L294.6 140.3L292.3 143.4L298.5 155.8L296.2 159.7L304 173.7L302.4 176L310.2 190L307.8 192.3L315.6 206.2L314 208.6L320.2 222.5L318.7 225.6L324.9 233.4L322.6 235.7L332.7 249.7L328.8 251.2L340.4 264.4L338.9 267.5L353.6 289.3L352.1 290.8L367.6 309.4L373 317.2L379.2 324.9L370.7 336.6L356.7 326.5L358.3 324.2L345.1 314.1L346.6 311L328 292.4L330.3 289.3L317.1 279.9L319.5 276.8L307.1 266L308.6 262.9L297 252L299.3 248.9L287.7 238.1L290 234.9L283.8 226.4L286.1 223.3L274.5 211.7L277.6 207.8L266.7 195.4L270.6 192.3L259.7 181.4L262.8 177.5L253.5 165.1L256.6 161.2L246.5 148.1Z" fill="#a8ff57"/>
<path d="M259.7 134.1L268.3 128.7L280.7 151.2L296.2 188.4L311.7 222.5L333.4 258.2L355.2 289.3L369.1 309.4L366.8 311.8L349 290.8L327.2 261.3L305.5 225.6L288.4 191.5L272.9 162Z" fill="#82ff7d" opacity="0.75"/>
<path d="M266.1 138.1L269.5 143L265.8 145.6L262.4 140.7ZM275.4 157.5L278.8 162.4L275.1 165L271.7 160.1ZM297.1 200.9L300.5 205.9L296.9 208.4L293.4 203.5Z" fill="#62ff9d"/>
<path d="M282.4 175.3L285.8 180.3L282.1 182.8L278.7 177.9ZM290.1 184.7L293.6 189.6L289.9 192.1L286.4 187.2ZM301 205.6L304.4 210.5L300.7 213.1L297.3 208.2ZM324.2 247.5L327.7 252.4L324 255L320.6 250.1ZM335.1 263.8L338.6 268.7L334.9 271.3L331.4 266.4Z" fill="#68ff97"/>
<path d="M349.1 282.4L352.5 287.3L348.8 289.9L345.4 285ZM280.8 127.2L284.2 132.2L280.6 134.7L277.1 129.8Z" fill="#6eff91"/>
<path d="M131 325L145.7 330.1L145.7 334.4L160.3 337.9L160.3 343.9L170.7 344.8L170.7 350.8L184.5 353.4L184.5 358.6L201.7 361.2L201.7 365.5L217.2 367.2L217.2 373.2L232.8 374.1L232.8 378.4L237.9 378.4L237.9 382.7L255.2 383.6L255.2 387L275.9 388.8L275.9 393.1L293.1 393.9L293.1 397.4L309.5 397.4L309.5 400.8L336.2 401.7L336.2 400L341.4 400L348.3 402.5L348.3 417.2L341.4 417.2L331 413.8L309.5 416.3L309.5 412.9L293.1 415.5L293.1 411.2L275.9 409.4L275.9 406L243.1 407.7L243.1 404.3L220.7 404.3L220.7 400.8L198.3 400.8L198.3 395.7L175.9 395.7L175.9 391.3L157.8 390.5L157.8 385.3L137.9 385.3L137.9 378.4L122.4 376.7L123.3 359.4L126.7 340.5Z" fill="#9dff62"/>
<path d="M125.9 349.1L169 357.7L220.7 376.7L272.4 395.7L324.1 406.9L348.3 409.4L348.3 413.8L324.1 411.2L272.4 404.3L220.7 392.2L169 376.7L123.3 368.1Z" fill="#aeff51"/>
<path d="M141.4 362.9L186.2 371.5L237.9 388.8L289.7 402.5L289.7 405.1L237.9 393.9L186.2 376.7L141.4 368.1Z" fill="#c3ff3c" opacity="0.8"/>
<path d="M139.7 362L145.2 362L145.2 367.2L139.7 367.2ZM210.3 383.6L215.5 383.6L215.5 387.9L210.3 387.9Z" fill="#fff"/>
<path d="M131.9 378.4H137.9V383.6H131.9ZM243.1 412H260.3V415.5H243.1Z" fill="#00b2ff"/>
<path d="M143.1 384.4H153.4V389.6H143.1ZM175.9 396.5H187.1V400H175.9ZM322.4 422.4H327.6V424.4H322.4Z" fill="#0095ff"/>
<path d="M159.5 390.5H170.7V394.8H159.5ZM192.2 401.2H203.4V404.6H192.2Z" fill="#009dff"/>
<path d="M209.5 405.7H225.9V409.4H209.5ZM300 420.7H304.3V422.9H300Z" fill="#00a4ff"/>
<path d="M225.9 409.4H243.1V412.9H225.9Z" fill="#00abff"/>
<path d="M255.2 415H275.9V418.1H255.2ZM282.8 416.3H293.1V419.4H282.8ZM298.3 417.2H309.5V419.8H298.3ZM315.5 418.1H325.9V420.3H315.5ZM331.9 418.6H341.4V420.3H331.9Z" fill="#00c1ff"/>
<path d="M120.7 388.8L137.1 389.6L137.1 393.9L154.3 394.8L154.3 400.8L169.8 400.8L169.8 404.3L175.9 406L181.9 406L181.9 409.4L198.3 410.3L198.3 413.8L215.5 414.6L215.5 418.1L232.8 418.1L232.8 419.8L250 420.7L250 422.4L265.5 422.4L265.5 425L289.7 425.8L289.7 427.5L320.7 426.7L348.3 424.6L350.9 425.8L351.7 433.6L331 436.2L296.6 440.5L294.8 437.9L269 440.5L269 437L251.7 439.6L251.7 436.2L236.2 437.9L234.5 435.3L217.2 437.9L217.2 433.6L200 436.2L200 431.9L188.8 432.7L188.8 429.3L172.4 430.1L172.4 425.8L155.2 425.8L155.2 421.5L137.9 421.9L137.9 417.2L120.7 417.2Z" fill="#0098ff"/>
<path d="M125.5 458.6L141.4 456.3L142.2 461.2L157.8 458.6L159.5 462.9L175.9 460.3L177.6 464.6L193.1 462L194.8 465.5L203.4 463.8L206 467.2L221.6 463.8L223.3 467.2L238.8 463.8L241.4 467.2L256 462.9L258.6 465.5L273.3 461.2L275.9 463.8L285.3 460.3L287.9 458.6L290.5 461.2L300 457.7L308.6 455.1L311.2 456.9L329.3 450.8L344.8 445.3L344.8 447.4L355.2 446L360.3 453.4L356.9 456L353.4 450.8L344.8 454.3L344.8 459.4L340.5 461.2L338.8 457.7L332.8 460.3L333.6 462.9L328.4 464.6L327.6 467.2L324.1 467.2L323.3 464.6L312.1 468.9L312.9 471.5L308.6 472.4L307.8 470.7L292.2 475.8L291.4 473.2L275.9 481L274.1 477.5L258.6 483.6L256.9 481L247.4 484.4L246.6 481.9L231 486.2L229.3 482.7L213.8 487.9L212.1 485.3L195.7 489.6L194 486.2L179.3 490.5L177.6 486.2L165.5 488.8L164.7 484.4L149.1 487L147.4 482.7L131.9 486.2Z" fill="#ff0f00"/>
<path d="M173.3 469.8L179 469.8L179 475.3L173.3 475.3Z" fill="#fff"/>
<path d="M164.7 500L180.2 494.8L181.9 499.1L185.3 498.2L185.3 493.1L189.7 492.2L193.1 500L168.1 510.3Z" fill="#ff0f00"/>
<path d="M153.6 547.4L158.4 545.5L160.2 549.7L155.3 551.7ZM171.2 544.8L176 542.9L177.8 547.2L172.9 549.1ZM183.5 544.5L188.3 542.5L190 546.8L185.2 548.8ZM200.7 541.4L205.5 539.4L207.2 543.7L202.4 545.7ZM217.4 537.6L222.2 535.6L224 539.9L219.1 541.9ZM234.1 533.3L239 531.3L240.7 535.6L235.9 537.6ZM250.7 528.1L255.5 526.2L257.2 530.4L252.4 532.4ZM262.2 525.5L267.1 523.6L268.8 527.8L264 529.8ZM278.1 519.5L282.9 517.5L284.7 521.8L279.8 523.8ZM309.4 506.5L314.1 504.6L315.4 507.9L310.8 509.8ZM325.3 498.9L329.5 497.2L330.6 500L326.4 501.7Z" fill="#00d7ff"/>
<path d="M364.4 477.9L369 476.1L369.4 477.2L364.8 479Z" fill="#00c1ff"/>
</g>
<use href="#grid"/>
<use href="#axes"/>
<text class="t" x="202.5" y="29.9" textLength="315.5" lengthAdjust="spacing">Carrington Latitude</text>
<text class="t" x="521" y="29.9" textLength="25.3" lengthAdjust="spacingAndGlyphs">=</text>
<text class="t" x="549.2" y="29.9">0<tspan dx="-1.6" dy="-1.6" style="font-size:32px">°</tspan></text>
<text class="t" x="2.3" y="39.5">(</text><text class="t" x="13.1" y="39.5" style="font-size:36.6px">R</text><text class="t" x="37.9" y="50.8" style="font-size:25px" textLength="40" lengthAdjust="spacingAndGlyphs">Sun</text><text class="t" x="78" y="39.5">)</text>
<text class="p" x="634.4" y="155.4">(</text><text class="p" x="677.1" y="149.5" style="font-size:93px">c</text><text class="p" x="730.7" y="155.4">)</text>
</g>
<g transform="translate(1051.6 900.9)">
<g clip-path="url(#cp)">
<path d="M247.3 140.3L280.6 117L291.5 134.1L288.4 137.2L296.2 151.9L293 155L300.8 169L298.5 173.7L306.2 185.3L303.9 188.4L312.4 203.1L310.1 206.2L314.8 213.2L313.2 217.9L321.8 228.7L321 231.8L329.5 244.3L325.6 245.8L338.8 262.9L353.6 286.2L367.5 307.9L373.7 316.4L379.2 324.9L370.6 334.3L362.9 331.9L362.1 328L350.5 318.7L351.2 316.4L339.6 306.3L340.4 304L328.7 293.9L330.3 290.8L317.1 280.7L318.6 277.6L307 266L308.6 262.9L301.6 255.9L303.1 252.8L297.7 247.4L299.3 245L287.6 238.1L289.9 234.2L283 227.2L285.3 223.3L274.4 211.7L277.5 207.8L267.4 196.2L270.5 193.1L259.7 181.4L262.8 177.5L256.6 169.8L259.7 165.9L249.6 153.5L252.7 149.6Z" fill="#a8ff57"/>
<path d="M259.7 134.1L268.2 128.7L280.6 151.2L296.2 188.4L311.7 222.5L333.4 258.2L355.1 289.3L369.1 309.4L366.7 311.8L348.9 290.8L327.2 261.3L305.5 225.6L288.4 191.5L272.9 162Z" fill="#82ff7d" opacity="0.75"/>
<path d="M266.5 138.1L269.9 143L266.2 145.6L262.8 140.7ZM275.3 157.5L278.8 162.4L275.1 165L271.6 160.1ZM297 200.9L300.5 205.9L296.8 208.4L293.4 203.5Z" fill="#62ff9d"/>
<path d="M282.3 175.3L285.7 180.3L282.1 182.8L278.6 177.9ZM290.1 184.7L293.5 189.6L289.8 192.1L286.4 187.2ZM300.9 205.6L304.4 210.5L300.7 213.1L297.2 208.2ZM324.2 247.5L327.6 252.4L324 255L320.5 250.1ZM335.1 263.8L338.5 268.7L334.8 271.3L331.4 266.4Z" fill="#68ff97"/>
<path d="M349 282.4L352.5 287.3L348.8 289.9L345.3 285ZM280.8 127.2L284.2 132.2L280.5 134.7L277.1 129.8Z" fill="#6eff91"/>
<path d="M129.4 331L154.4 336.2L154.4 340.5L163.9 342.2L163.9 348.2L184.6 351.7L184.6 357.7L195.8 358.6L195.8 363.8L211.3 365.5L211.3 370.7L221.7 371.5L221.7 376.7L236.3 377.5L236.3 381.9L254.4 383.6L254.4 387L276 388.8L276 392.2L287.2 393.1L287.2 396.5L303.6 397.4L303.6 400L319.1 400L319.1 402.5L343.2 405.1L348.4 406.9L348.4 411.2L337.2 413.8L337.2 411.2L315.6 415.5L314.8 412.9L303.6 414.6L303.6 412L287.2 412.9L287.2 409.4L265.6 409.4L265.6 406.9L242.4 408.6L242.4 405.1L220 405.1L220 400.8L197.5 400.8L197.5 396.5L187.2 395.7L176 395.7L176 390.5L159.6 389.6L159.6 384.4L138.1 383.6L138.1 377.5L122.5 376.7L123.9 359.4L126.3 343.9Z" fill="#9dff62"/>
<path d="M125.1 350.8L167.4 358.6L219.1 376.7L270.8 395.7L322.5 406L348.4 408.6L348.4 410.3L322.5 409.4L270.8 403.4L219.1 391.3L167.4 376.7L122.9 368.9Z" fill="#aeff51"/>
<path d="M140.6 362.9L184.6 371.5L236.3 388.8L288.1 401.7L288.1 404.3L236.3 393.9L184.6 376.7L140.6 368.1Z" fill="#c3ff3c" opacity="0.8"/>
<path d="M139.4 362L145 362L145 367.2L139.4 367.2ZM210.1 383.6L215.3 383.6L215.3 387.9L210.1 387.9Z" fill="#fff"/>
<path d="M132 378.1H138.1V383.2H132Z" fill="#00c1ff"/>
<path d="M142.9 383.6H148.4V389.1H142.9Z" fill="#009dff"/>
<path d="M164.8 390H170.8V395.1H164.8ZM181.7 396H186.8V400H181.7Z" fill="#00c8ff"/>
<path d="M120.8 388.8L137.2 388.8L137.2 394.8L153.6 395.7L153.6 400.8L170 400.8L170 406L181.2 406L181.2 409.4L198.4 410.3L198.4 413.8L215.6 414.3L215.6 417.2L232 417.7L232 419.8L248.4 419.8L248.4 421.9L264.8 421.9L264.8 424.1L288.1 425L288.1 426.7L320.8 425.8L349.3 424.1L351 430.1L346.7 431.9L331.2 436.2L330.3 433.6L313.9 439.6L312.2 437L303.6 439.6L301.8 437L286.3 440.5L285.5 437.9L269.1 440.5L268.2 437L251.8 439.6L234.6 438.8L233.7 435.3L217.4 437.9L217.4 433.6L200.1 436.2L200.1 431.9L188.9 432.7L188.9 429.3L172.5 430.1L172.5 425L154.4 425.8L154.4 421.9L138.1 422.4L138.1 417.2L126 417.2L126 411.2L120.5 411.2Z" fill="#0098ff"/>
<path d="M131.2 457.7L135.5 456.9L136.3 461.2L152.7 459.4L154.4 462.9L170 461.2L171.7 465.5L176.8 464.6L177.7 468.9L196.7 464.6L198.4 468.1L215.6 465L217.4 468.1L233.7 464.6L235.5 467.2L245.8 465.5L247.5 468.9L251.8 468.1L259.6 464.6L266.5 462.9L268.2 465.5L273.4 463.8L276 466.3L284.6 463.8L286.3 465.5L317.4 454.3L319.1 456.3L335.5 450.5L337.2 452.5L346.7 450.8L352.7 450.5L348.4 456L345 456.9L344.1 455.1L338.9 461.2L334.6 462L333.7 459.4L323.4 465.5L320.8 463.8L313.1 471.5L307.9 472.4L307 469.8L298.4 475L296.7 473.2L281.2 479.3L279.4 476.7L259.6 484.4L257 481L248.4 481.9L236.3 485.3L234.6 482.2L213.9 488.8L212.2 485.3L195.8 489.6L194.1 486.2L178.6 490.5L176 486.2L166.5 488.8L163.9 484.4L149.3 487.9L146.7 482.7L137.2 485.3L134.6 481.9L130.3 480.1L126.8 464.6L131.2 463.8Z" fill="#ff0f00"/>
<path d="M173.4 469.8L179.1 469.8L179.1 475.3L173.4 475.3Z" fill="#fff"/>
</g>
<use href="#grid"/>
<use href="#axes"/>
<text class="t" x="202.5" y="29.9" textLength="315.5" lengthAdjust="spacing">Carrington Latitude</text>
<text class="t" x="521" y="29.9" textLength="25.3" lengthAdjust="spacingAndGlyphs">=</text>
<text class="t" x="549.2" y="29.9">0<tspan dx="-1.6" dy="-1.6" style="font-size:32px">°</tspan></text>
<text class="t" x="2.3" y="39.5">(</text><text class="t" x="13.1" y="39.5" style="font-size:36.6px">R</text><text class="t" x="37.9" y="50.8" style="font-size:25px" textLength="40" lengthAdjust="spacingAndGlyphs">Sun</text><text class="t" x="78" y="39.5">)</text>
<text class="p" x="634.4" y="155.4">(</text><text class="p" x="677.2" y="149.5" style="font-size:93px">d</text><text class="p" x="739.5" y="155.4">)</text>
</g>
</svg></body></html>
